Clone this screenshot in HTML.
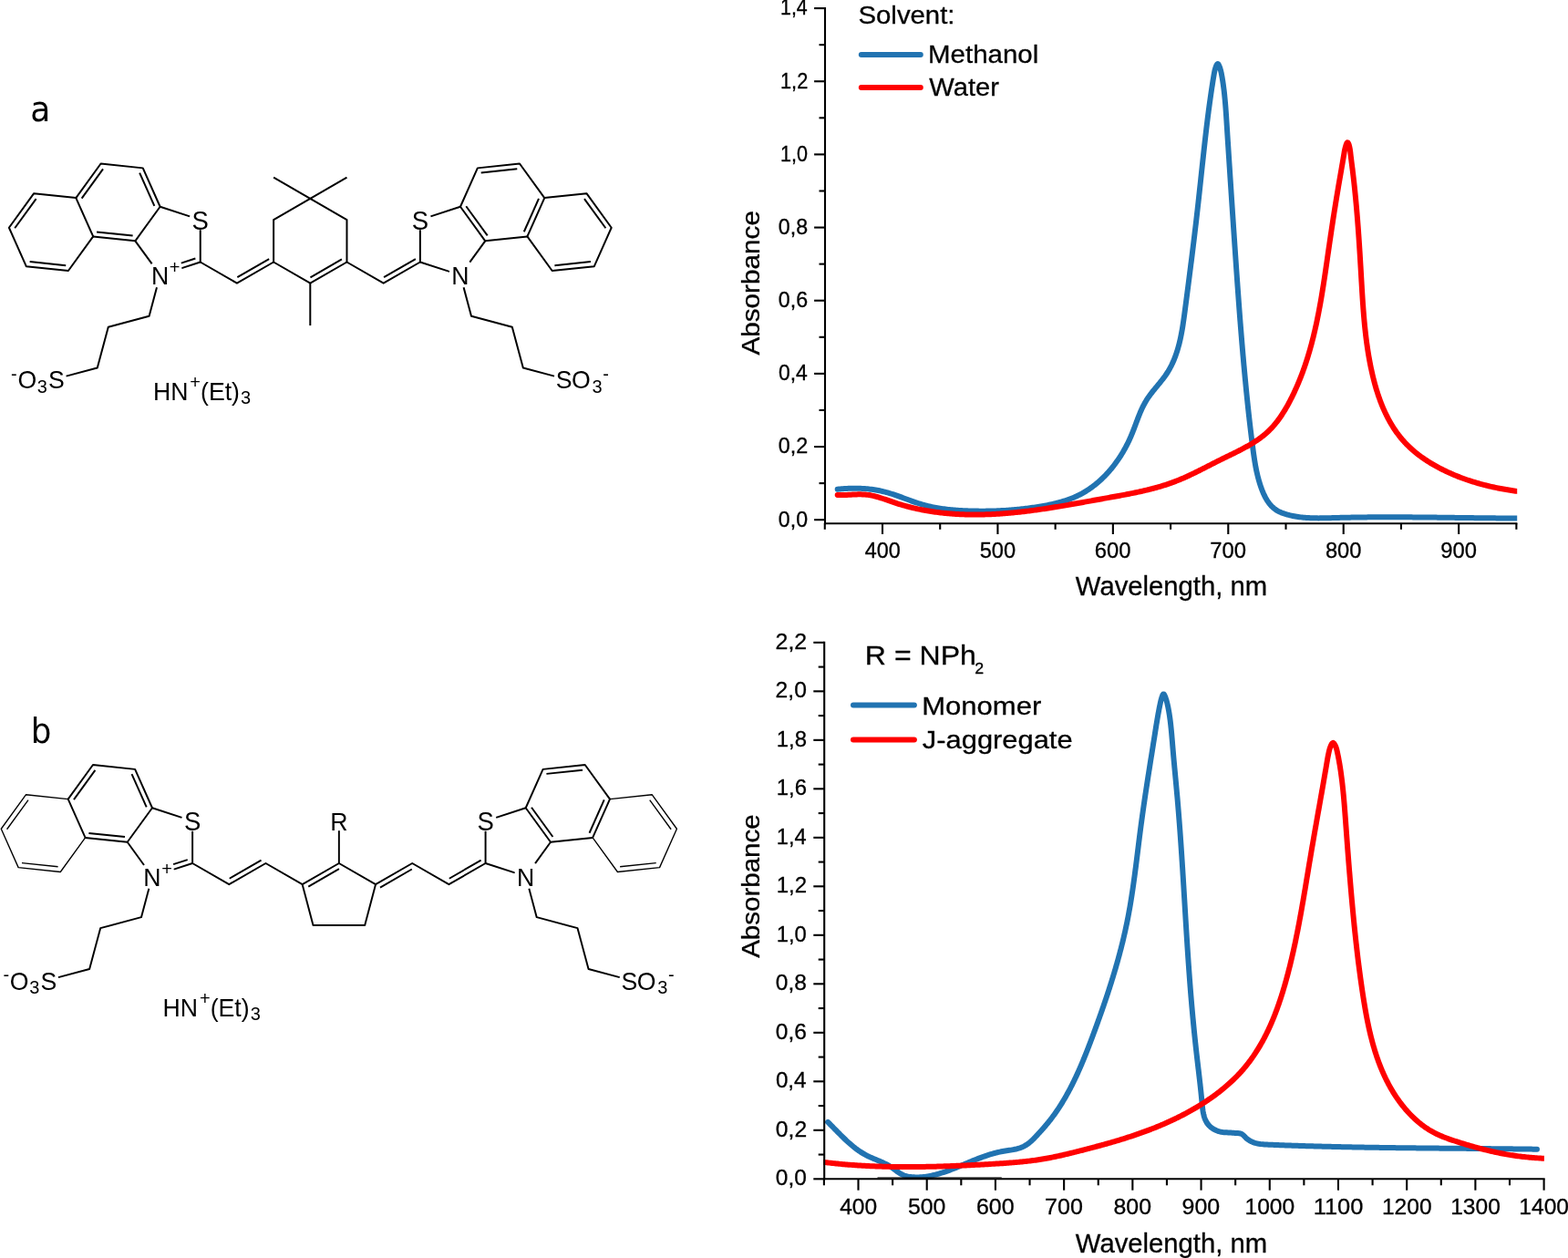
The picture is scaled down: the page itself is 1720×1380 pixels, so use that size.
<!DOCTYPE html>
<html><head><meta charset="utf-8"><title>Absorbance spectra</title>
<style>
html,body{margin:0;padding:0;background:#fff;}
body{width:1720px;height:1380px;overflow:hidden;}
svg{display:block;}
text{white-space:pre;}
</style></head><body>
<svg width="1720" height="1380" viewBox="0 0 1720 1380">
<rect width="1720" height="1380" fill="#fff"/>
<g id="struct-a">
<path d="M83.33 217.06 L37.18 212.21 L9.91 249.75 L28.78 292.14 L74.93 296.99 L102.2 259.45" fill="none" stroke="#000" stroke-width="2" stroke-linecap="round" stroke-linejoin="round"/>
<line x1="83.33" y1="217.06" x2="102.2" y2="259.45" stroke="#000" stroke-width="2" stroke-linecap="round"/>
<path d="M83.33 217.06 L110.6 179.52 L156.75 184.37 L175.62 226.76 L148.35 264.3 L102.2 259.45" fill="none" stroke="#000" stroke-width="2" stroke-linecap="butt" stroke-linejoin="round"/>
<line x1="175.62" y1="226.76" x2="208.15" y2="237.33" stroke="#000" stroke-width="2" stroke-linecap="butt"/>
<line x1="148.35" y1="264.3" x2="166.63" y2="289.46" stroke="#000" stroke-width="2" stroke-linecap="butt"/>
<path d="M172 315.36 L163.61 346.66 L118.79 358.67 L106.78 403.49 L72.59 412.65" fill="none" stroke="#000" stroke-width="2" stroke-linecap="butt" stroke-linejoin="round"/>
<line x1="200.16" y1="293.87" x2="219.75" y2="287.5" stroke="#000" stroke-width="2" stroke-linecap="round"/>
<line x1="198.77" y1="288.64" x2="214.37" y2="283.57" stroke="#000" stroke-width="2" stroke-linecap="butt"/>
<line x1="16.22" y1="250.25" x2="39.61" y2="218.06" stroke="#000" stroke-width="2" stroke-linecap="butt"/>
<line x1="72.21" y1="291.27" x2="32.63" y2="287.11" stroke="#000" stroke-width="2" stroke-linecap="butt"/>
<line x1="89.64" y1="217.57" x2="113.03" y2="185.37" stroke="#000" stroke-width="2" stroke-linecap="butt"/>
<line x1="153.16" y1="189.58" x2="169.34" y2="225.94" stroke="#000" stroke-width="2" stroke-linecap="butt"/>
<line x1="145.63" y1="258.58" x2="106.05" y2="254.42" stroke="#000" stroke-width="2" stroke-linecap="butt"/>
<text transform="translate(210.59,251.65) scale(1.0300,1.0875)" font-family='"Liberation Sans", sans-serif' font-size="26.67">S</text>
<text transform="translate(165.99,312.04) scale(1.0000,1.0407)" font-family='"Liberation Sans", sans-serif' font-size="26.67">N</text>
<path d="M597.27 217.06 L643.42 212.21 L670.69 249.75 L651.82 292.14 L605.67 296.99 L578.4 259.45" fill="none" stroke="#000" stroke-width="2" stroke-linecap="round" stroke-linejoin="round"/>
<line x1="597.27" y1="217.06" x2="578.4" y2="259.45" stroke="#000" stroke-width="2" stroke-linecap="round"/>
<path d="M597.27 217.06 L570 179.52 L523.85 184.37 L504.98 226.76 L532.25 264.3 L578.4 259.45" fill="none" stroke="#000" stroke-width="2" stroke-linecap="butt" stroke-linejoin="round"/>
<line x1="504.98" y1="226.76" x2="472.45" y2="237.33" stroke="#000" stroke-width="2" stroke-linecap="butt"/>
<line x1="532.25" y1="264.3" x2="515.32" y2="287.6" stroke="#000" stroke-width="2" stroke-linecap="butt"/>
<path d="M508.6 315.36 L516.99 346.66 L561.81 358.67 L573.82 403.49 L608.01 412.65" fill="none" stroke="#000" stroke-width="2" stroke-linecap="butt" stroke-linejoin="round"/>
<line x1="492.14" y1="297.67" x2="460.85" y2="287.5" stroke="#000" stroke-width="2" stroke-linecap="round"/>
<line x1="664.38" y1="250.25" x2="640.99" y2="218.06" stroke="#000" stroke-width="2" stroke-linecap="butt"/>
<line x1="608.39" y1="291.27" x2="647.97" y2="287.11" stroke="#000" stroke-width="2" stroke-linecap="butt"/>
<line x1="567.28" y1="185.24" x2="527.7" y2="189.4" stroke="#000" stroke-width="2" stroke-linecap="butt"/>
<line x1="511.29" y1="226.26" x2="534.68" y2="258.46" stroke="#000" stroke-width="2" stroke-linecap="butt"/>
<line x1="591" y1="217.88" x2="574.81" y2="254.24" stroke="#000" stroke-width="2" stroke-linecap="butt"/>
<text transform="translate(451.69,251.65) scale(1.0300,1.0875)" font-family='"Liberation Sans", sans-serif' font-size="26.67">S</text>
<text transform="translate(495.35,312.04) scale(1.0000,1.0407)" font-family='"Liberation Sans", sans-serif' font-size="26.67">N</text>
<path d="M219.75 252.3 L219.75 287.5 L259.93 310.7 L300.12 287.5 L340.3 310.7 L380.48 287.5 L420.67 310.7 L460.85 287.5 L460.85 252.3" fill="none" stroke="#000" stroke-width="2" stroke-linecap="butt" stroke-linejoin="round"/>
<path d="M300.12 287.5 L300.12 241.1 L340.3 217.9 L380.48 241.1 L380.48 287.5" fill="none" stroke="#000" stroke-width="2" stroke-linecap="butt" stroke-linejoin="round"/>
<line x1="340.3" y1="217.9" x2="300.12" y2="194.7" stroke="#000" stroke-width="2" stroke-linecap="butt"/>
<line x1="340.3" y1="217.9" x2="380.48" y2="194.7" stroke="#000" stroke-width="2" stroke-linecap="butt"/>
<line x1="340.3" y1="310.7" x2="340.3" y2="357.1" stroke="#000" stroke-width="2" stroke-linecap="butt"/>
<line x1="260.35" y1="304.22" x2="295.16" y2="284.12" stroke="#000" stroke-width="2" stroke-linecap="butt"/>
<line x1="340.46" y1="304.37" x2="374.93" y2="284.47" stroke="#000" stroke-width="2" stroke-linecap="butt"/>
<line x1="421.08" y1="304.22" x2="455.9" y2="284.12" stroke="#000" stroke-width="2" stroke-linecap="butt"/>
<text transform="translate(185.8,300.2) scale(1.0000,1.0407)" font-family='"Liberation Sans", sans-serif' font-size="20">+</text>
<text transform="translate(53.07,426.29) scale(1.0000,1.0407)" font-family='"Liberation Sans", sans-serif' font-size="26.67">S</text>
<text transform="translate(40.82,430.89) scale(1.0000,1.0407)" font-family='"Liberation Sans", sans-serif' font-size="20">3</text>
<text transform="translate(19.5,426.29) scale(1.0000,1.0407)" font-family='"Liberation Sans", sans-serif' font-size="26.67">O</text>
<text transform="translate(12.07,416.79) scale(1.0000,1.0407)" font-family='"Liberation Sans", sans-serif' font-size="20">-</text>
<text transform="translate(609.74,426.29) scale(1.0000,1.0407)" font-family='"Liberation Sans", sans-serif' font-size="26.67">S</text>
<text transform="translate(626.98,426.29) scale(1.0000,1.0407)" font-family='"Liberation Sans", sans-serif' font-size="26.67">O</text>
<text transform="translate(649.49,430.89) scale(1.0000,1.0407)" font-family='"Liberation Sans", sans-serif' font-size="20">3</text>
<text transform="translate(661.24,416.79) scale(1.0000,1.0407)" font-family='"Liberation Sans", sans-serif' font-size="20">-</text>
<text transform="translate(167.9,438.7) scale(1.0000,1.0407)" font-family='"Liberation Sans", sans-serif' font-size="26.67">HN</text>
<text transform="translate(208.3,426.1) scale(1.0000,1.0407)" font-family='"Liberation Sans", sans-serif' font-size="20">+</text>
<text transform="translate(220.03,438.7) scale(1.0000,1.0407)" font-family='"Liberation Sans", sans-serif' font-size="26.67">(Et)</text>
<text transform="translate(264.05,443.3) scale(1.0000,1.0407)" font-family='"Liberation Sans", sans-serif' font-size="20">3</text>
</g>
<g id="struct-b">
<path d="M74.7 876.56 L28.55 871.71 L1.28 909.25 L20.15 951.64 L66.29 956.49 L93.57 918.95" fill="none" stroke="#000" stroke-width="1.35" stroke-linecap="round" stroke-linejoin="round"/>
<line x1="74.7" y1="876.56" x2="93.57" y2="918.95" stroke="#000" stroke-width="1.95" stroke-linecap="round"/>
<path d="M74.7 876.56 L101.97 839.02 L148.11 843.87 L166.99 886.26 L139.71 923.8 L93.57 918.95" fill="none" stroke="#000" stroke-width="1.95" stroke-linecap="butt" stroke-linejoin="round"/>
<line x1="166.99" y1="886.26" x2="199.51" y2="896.83" stroke="#000" stroke-width="1.95" stroke-linecap="butt"/>
<line x1="139.71" y1="923.8" x2="157.99" y2="948.96" stroke="#000" stroke-width="1.95" stroke-linecap="butt"/>
<path d="M163.36 974.86 L154.98 1006.16 L110.16 1018.17 L98.15 1062.99 L63.96 1072.15" fill="none" stroke="#000" stroke-width="1.95" stroke-linecap="butt" stroke-linejoin="round"/>
<line x1="191.52" y1="953.37" x2="211.12" y2="947" stroke="#000" stroke-width="1.95" stroke-linecap="round"/>
<line x1="190.14" y1="948.14" x2="205.74" y2="943.07" stroke="#000" stroke-width="1.95" stroke-linecap="butt"/>
<line x1="7.58" y1="909.75" x2="30.98" y2="877.56" stroke="#000" stroke-width="1.35" stroke-linecap="butt"/>
<line x1="63.58" y1="950.77" x2="23.99" y2="946.61" stroke="#000" stroke-width="1.35" stroke-linecap="butt"/>
<line x1="81" y1="877.07" x2="104.4" y2="844.87" stroke="#000" stroke-width="1.95" stroke-linecap="butt"/>
<line x1="144.52" y1="849.08" x2="160.71" y2="885.44" stroke="#000" stroke-width="1.95" stroke-linecap="butt"/>
<line x1="137" y1="918.08" x2="97.41" y2="913.92" stroke="#000" stroke-width="1.95" stroke-linecap="butt"/>
<text transform="translate(201.95,911.15) scale(1.0300,1.0875)" font-family='"Liberation Sans", sans-serif' font-size="26.67">S</text>
<text transform="translate(157.36,971.54) scale(1.0000,1.0407)" font-family='"Liberation Sans", sans-serif' font-size="26.67">N</text>
<path d="M669 876.56 L715.15 871.71 L742.42 909.25 L723.55 951.64 L677.41 956.49 L650.13 918.95" fill="none" stroke="#000" stroke-width="1.35" stroke-linecap="round" stroke-linejoin="round"/>
<line x1="669" y1="876.56" x2="650.13" y2="918.95" stroke="#000" stroke-width="1.95" stroke-linecap="round"/>
<path d="M669 876.56 L641.73 839.02 L595.59 843.87 L576.71 886.26 L603.99 923.8 L650.13 918.95" fill="none" stroke="#000" stroke-width="1.95" stroke-linecap="butt" stroke-linejoin="round"/>
<line x1="576.71" y1="886.26" x2="544.19" y2="896.83" stroke="#000" stroke-width="1.95" stroke-linecap="butt"/>
<line x1="603.99" y1="923.8" x2="587.06" y2="947.1" stroke="#000" stroke-width="1.95" stroke-linecap="butt"/>
<path d="M580.34 974.86 L588.72 1006.16 L633.54 1018.17 L645.55 1062.99 L679.74 1072.15" fill="none" stroke="#000" stroke-width="1.95" stroke-linecap="butt" stroke-linejoin="round"/>
<line x1="563.87" y1="957.17" x2="532.58" y2="947" stroke="#000" stroke-width="1.95" stroke-linecap="round"/>
<line x1="736.12" y1="909.75" x2="712.72" y2="877.56" stroke="#000" stroke-width="1.35" stroke-linecap="butt"/>
<line x1="680.12" y1="950.77" x2="719.71" y2="946.61" stroke="#000" stroke-width="1.35" stroke-linecap="butt"/>
<line x1="639.01" y1="844.74" x2="599.43" y2="848.9" stroke="#000" stroke-width="1.95" stroke-linecap="butt"/>
<line x1="583.02" y1="885.76" x2="606.42" y2="917.96" stroke="#000" stroke-width="1.95" stroke-linecap="butt"/>
<line x1="662.73" y1="877.38" x2="646.54" y2="913.74" stroke="#000" stroke-width="1.95" stroke-linecap="butt"/>
<text transform="translate(523.42,911.15) scale(1.0300,1.0875)" font-family='"Liberation Sans", sans-serif' font-size="26.67">S</text>
<text transform="translate(567.08,971.54) scale(1.0000,1.0407)" font-family='"Liberation Sans", sans-serif' font-size="26.67">N</text>
<path d="M211.12 911.8 L211.12 947 L251.3 970.2 L291.48 947 L331.67 970.2 L371.85 947 L412.03 970.2 L452.22 947 L492.4 970.2 L532.58 947 L532.58 911.8" fill="none" stroke="#000" stroke-width="1.95" stroke-linecap="butt" stroke-linejoin="round"/>
<path d="M331.67 970.2 L343.5 1015 L400.2 1015 L412.03 970.2" fill="none" stroke="#000" stroke-width="1.95" stroke-linecap="butt" stroke-linejoin="round"/>
<line x1="371.85" y1="947" x2="371.85" y2="911.2" stroke="#000" stroke-width="1.95" stroke-linecap="butt"/>
<line x1="251.72" y1="963.72" x2="286.53" y2="943.62" stroke="#000" stroke-width="1.95" stroke-linecap="butt"/>
<line x1="338.26" y1="972.63" x2="371.95" y2="953.18" stroke="#000" stroke-width="1.95" stroke-linecap="butt"/>
<line x1="416.99" y1="973.58" x2="451.8" y2="953.48" stroke="#000" stroke-width="1.95" stroke-linecap="butt"/>
<line x1="492.82" y1="963.72" x2="527.63" y2="943.62" stroke="#000" stroke-width="1.95" stroke-linecap="butt"/>
<text transform="translate(362.22,910.8) scale(1.0000,1.0407)" font-family='"Liberation Sans", sans-serif' font-size="26.67">R</text>
<text transform="translate(177.27,959.5) scale(1.0000,1.0407)" font-family='"Liberation Sans", sans-serif' font-size="20">+</text>
<text transform="translate(44.44,1085.79) scale(1.0000,1.0407)" font-family='"Liberation Sans", sans-serif' font-size="26.67">S</text>
<text transform="translate(32.19,1090.39) scale(1.0000,1.0407)" font-family='"Liberation Sans", sans-serif' font-size="20">3</text>
<text transform="translate(10.87,1085.79) scale(1.0000,1.0407)" font-family='"Liberation Sans", sans-serif' font-size="26.67">O</text>
<text transform="translate(3.44,1076.29) scale(1.0000,1.0407)" font-family='"Liberation Sans", sans-serif' font-size="20">-</text>
<text transform="translate(681.48,1085.79) scale(1.0000,1.0407)" font-family='"Liberation Sans", sans-serif' font-size="26.67">S</text>
<text transform="translate(698.71,1085.79) scale(1.0000,1.0407)" font-family='"Liberation Sans", sans-serif' font-size="26.67">O</text>
<text transform="translate(721.23,1090.39) scale(1.0000,1.0407)" font-family='"Liberation Sans", sans-serif' font-size="20">3</text>
<text transform="translate(732.98,1076.29) scale(1.0000,1.0407)" font-family='"Liberation Sans", sans-serif' font-size="20">-</text>
<text transform="translate(178.5,1114.7) scale(1.0000,1.0407)" font-family='"Liberation Sans", sans-serif' font-size="26.67">HN</text>
<text transform="translate(218.9,1102.1) scale(1.0000,1.0407)" font-family='"Liberation Sans", sans-serif' font-size="20">+</text>
<text transform="translate(230.63,1114.7) scale(1.0000,1.0407)" font-family='"Liberation Sans", sans-serif' font-size="26.67">(Et)</text>
<text transform="translate(274.65,1119.3) scale(1.0000,1.0407)" font-family='"Liberation Sans", sans-serif' font-size="20">3</text>
</g>
<text transform="translate(33.33,132.63) scale(0.9437,1)" font-family='"DejaVu Sans", sans-serif' font-size="38.26" fill="#000">a</text>
<text transform="translate(33.79,814.64) scale(0.9611,1)" font-family='"DejaVu Sans", sans-serif' font-size="37.16" fill="#000">b</text>
<g id="chart-a">
<clipPath id="ca"><rect x="900" y="0" width="764.2" height="600"/></clipPath>
<path d="M918.7 536.71 L920.19 536.55 L921.69 536.41 L923.18 536.28 L924.68 536.16 L926.18 536.06 L927.67 535.96 L929.17 535.88 L930.68 535.81 L932.18 535.75 L933.68 535.71 L935.18 535.68 L936.68 535.67 L938.18 535.67 L939.69 535.68 L941.19 535.71 L942.69 535.75 L944.19 535.81 L945.68 535.88 L947.18 535.97 L948.68 536.07 L950.17 536.19 L951.66 536.33 L953.15 536.48 L954.64 536.65 L956.12 536.83 L957.61 537.03 L959.09 537.25 L960.56 537.49 L962.04 537.75 L963.5 538.02 L964.97 538.31 L966.43 538.62 L967.89 538.95 L969.35 539.3 L970.8 539.66 L972.24 540.05 L973.68 540.45 L975.12 540.87 L976.55 541.3 L977.98 541.75 L979.41 542.21 L980.84 542.68 L982.26 543.16 L983.68 543.65 L985.1 544.15 L986.52 544.66 L987.94 545.17 L989.35 545.68 L990.77 546.2 L992.18 546.72 L993.59 547.24 L995.01 547.76 L996.42 548.28 L997.84 548.8 L999.26 549.31 L1000.67 549.82 L1002.09 550.32 L1003.52 550.81 L1004.94 551.3 L1006.37 551.77 L1007.79 552.24 L1009.23 552.69 L1010.66 553.12 L1012.1 553.55 L1013.54 553.95 L1014.99 554.34 L1016.44 554.72 L1017.89 555.08 L1019.35 555.42 L1020.81 555.75 L1022.27 556.07 L1023.74 556.37 L1025.21 556.66 L1026.68 556.93 L1028.16 557.2 L1029.63 557.44 L1031.11 557.68 L1032.6 557.9 L1034.08 558.12 L1035.57 558.32 L1037.05 558.51 L1038.54 558.69 L1040.04 558.86 L1041.53 559.02 L1043.02 559.17 L1044.52 559.31 L1046.01 559.44 L1047.51 559.56 L1049.01 559.67 L1050.51 559.78 L1052.01 559.88 L1053.51 559.97 L1055.01 560.05 L1056.51 560.13 L1058.01 560.2 L1059.51 560.27 L1061.01 560.33 L1062.51 560.38 L1064.01 560.43 L1065.51 560.47 L1067 560.51 L1068.5 560.54 L1070 560.57 L1071.5 560.6 L1072.99 560.62 L1074.49 560.63 L1075.98 560.64 L1077.48 560.64 L1078.97 560.64 L1080.47 560.63 L1081.96 560.62 L1083.46 560.6 L1084.95 560.58 L1086.44 560.55 L1087.94 560.51 L1089.43 560.47 L1090.92 560.43 L1092.42 560.38 L1093.91 560.32 L1095.4 560.26 L1096.9 560.19 L1098.39 560.12 L1099.88 560.04 L1101.37 559.96 L1102.86 559.87 L1104.36 559.77 L1105.85 559.67 L1107.34 559.56 L1108.83 559.45 L1110.33 559.33 L1111.82 559.21 L1113.31 559.08 L1114.8 558.94 L1116.3 558.8 L1117.79 558.65 L1119.28 558.5 L1120.78 558.34 L1122.27 558.17 L1123.77 558 L1125.26 557.82 L1126.75 557.64 L1128.25 557.45 L1129.74 557.25 L1131.24 557.05 L1132.74 556.84 L1134.23 556.63 L1135.73 556.41 L1137.23 556.18 L1138.72 555.95 L1140.22 555.71 L1141.72 555.46 L1143.21 555.21 L1144.71 554.94 L1146.21 554.67 L1147.7 554.39 L1149.19 554.1 L1150.68 553.8 L1152.16 553.49 L1153.64 553.17 L1155.12 552.84 L1156.6 552.5 L1158.07 552.14 L1159.53 551.78 L1161 551.39 L1162.45 551 L1163.9 550.59 L1165.34 550.17 L1166.78 549.73 L1168.21 549.28 L1169.64 548.81 L1171.05 548.33 L1172.46 547.82 L1173.86 547.31 L1175.25 546.77 L1176.63 546.22 L1178 545.64 L1179.37 545.05 L1180.72 544.44 L1182.06 543.81 L1183.39 543.16 L1184.71 542.49 L1186.02 541.8 L1187.32 541.09 L1188.61 540.36 L1189.88 539.61 L1191.15 538.84 L1192.4 538.06 L1193.64 537.25 L1194.87 536.43 L1196.09 535.59 L1197.3 534.73 L1198.49 533.85 L1199.68 532.96 L1200.85 532.05 L1202.01 531.12 L1203.16 530.18 L1204.3 529.22 L1205.42 528.25 L1206.54 527.26 L1207.64 526.25 L1208.73 525.23 L1209.81 524.2 L1210.87 523.15 L1211.93 522.08 L1212.97 521.01 L1214 519.92 L1215.02 518.81 L1216.02 517.7 L1217.01 516.57 L1217.99 515.42 L1218.96 514.27 L1219.92 513.1 L1220.86 511.93 L1221.79 510.74 L1222.71 509.54 L1223.61 508.32 L1224.5 507.1 L1225.38 505.87 L1226.25 504.63 L1227.1 503.37 L1227.94 502.11 L1228.77 500.84 L1229.58 499.56 L1230.38 498.27 L1231.17 496.97 L1231.95 495.67 L1232.71 494.35 L1233.46 493.03 L1234.19 491.7 L1234.92 490.37 L1235.63 489.02 L1236.32 487.67 L1237 486.32 L1237.67 484.95 L1238.33 483.59 L1238.97 482.21 L1239.59 480.83 L1240.21 479.45 L1240.81 478.06 L1241.39 476.67 L1241.97 475.27 L1242.53 473.87 L1243.08 472.47 L1243.62 471.06 L1244.16 469.65 L1244.69 468.25 L1245.22 466.84 L1245.74 465.43 L1246.27 464.03 L1246.79 462.62 L1247.32 461.22 L1247.85 459.82 L1248.38 458.43 L1248.92 457.04 L1249.47 455.65 L1250.03 454.27 L1250.59 452.9 L1251.17 451.54 L1251.77 450.18 L1252.38 448.83 L1253.01 447.49 L1253.65 446.16 L1254.31 444.84 L1255 443.53 L1255.71 442.23 L1256.44 440.94 L1257.2 439.67 L1257.98 438.41 L1258.79 437.17 L1259.63 435.93 L1260.49 434.71 L1261.37 433.5 L1262.27 432.3 L1263.18 431.1 L1264.11 429.91 L1265.04 428.73 L1265.99 427.56 L1266.95 426.38 L1267.91 425.21 L1268.87 424.04 L1269.84 422.87 L1270.8 421.71 L1271.76 420.54 L1272.71 419.36 L1273.66 418.18 L1274.59 417 L1275.51 415.82 L1276.42 414.62 L1277.31 413.42 L1278.19 412.21 L1279.04 410.98 L1279.86 409.75 L1280.67 408.5 L1281.45 407.25 L1282.2 405.98 L1282.93 404.7 L1283.64 403.41 L1284.33 402.11 L1285 400.8 L1285.64 399.47 L1286.27 398.14 L1286.87 396.8 L1287.46 395.45 L1288.02 394.09 L1288.57 392.72 L1289.09 391.35 L1289.6 389.96 L1290.1 388.57 L1290.57 387.17 L1291.03 385.76 L1291.48 384.35 L1291.91 382.92 L1292.32 381.49 L1292.72 380.06 L1293.11 378.62 L1293.48 377.17 L1293.84 375.72 L1294.19 374.26 L1294.52 372.79 L1294.85 371.32 L1295.16 369.85 L1295.46 368.37 L1295.76 366.89 L1296.04 365.41 L1296.32 363.92 L1296.58 362.43 L1296.84 360.93 L1297.09 359.43 L1297.34 357.93 L1297.57 356.43 L1297.8 354.92 L1298.03 353.42 L1298.25 351.91 L1298.47 350.4 L1298.68 348.89 L1298.89 347.38 L1299.1 345.87 L1299.3 344.36 L1299.5 342.85 L1299.7 341.34 L1299.9 339.83 L1300.1 338.32 L1300.29 336.81 L1300.49 335.3 L1300.69 333.79 L1300.89 332.29 L1301.08 330.79 L1301.28 329.28 L1301.48 327.78 L1301.67 326.28 L1301.87 324.78 L1302.06 323.28 L1302.26 321.78 L1302.45 320.28 L1302.65 318.79 L1302.84 317.29 L1303.04 315.79 L1303.23 314.3 L1303.42 312.81 L1303.62 311.31 L1303.81 309.82 L1304 308.33 L1304.19 306.84 L1304.39 305.35 L1304.58 303.86 L1304.77 302.37 L1304.96 300.88 L1305.15 299.39 L1305.34 297.91 L1305.53 296.42 L1305.72 294.93 L1305.91 293.45 L1306.09 291.96 L1306.28 290.48 L1306.47 288.99 L1306.66 287.51 L1306.84 286.02 L1307.03 284.54 L1307.22 283.06 L1307.4 281.58 L1307.59 280.09 L1307.77 278.61 L1307.96 277.13 L1308.14 275.65 L1308.32 274.17 L1308.51 272.69 L1308.69 271.2 L1308.87 269.72 L1309.05 268.24 L1309.23 266.76 L1309.41 265.28 L1309.59 263.8 L1309.77 262.32 L1309.95 260.84 L1310.13 259.36 L1310.31 257.88 L1310.49 256.4 L1310.66 254.92 L1310.84 253.44 L1311.02 251.96 L1311.19 250.48 L1311.37 249 L1311.54 247.52 L1311.72 246.04 L1311.89 244.56 L1312.06 243.08 L1312.24 241.6 L1312.41 240.11 L1312.58 238.63 L1312.75 237.15 L1312.92 235.67 L1313.09 234.19 L1313.26 232.7 L1313.43 231.22 L1313.6 229.74 L1313.76 228.25 L1313.93 226.77 L1314.1 225.28 L1314.26 223.8 L1314.43 222.31 L1314.59 220.82 L1314.75 219.34 L1314.92 217.85 L1315.08 216.36 L1315.24 214.87 L1315.4 213.38 L1315.57 211.9 L1315.73 210.41 L1315.89 208.92 L1316.05 207.43 L1316.21 205.94 L1316.37 204.44 L1316.53 202.95 L1316.69 201.46 L1316.85 199.97 L1317.01 198.48 L1317.17 196.99 L1317.32 195.49 L1317.48 194 L1317.64 192.51 L1317.8 191.01 L1317.96 189.52 L1318.12 188.02 L1318.28 186.53 L1318.44 185.04 L1318.6 183.54 L1318.76 182.05 L1318.92 180.55 L1319.08 179.06 L1319.24 177.56 L1319.4 176.07 L1319.56 174.57 L1319.73 173.07 L1319.89 171.58 L1320.05 170.08 L1320.21 168.59 L1320.38 167.09 L1320.54 165.59 L1320.71 164.1 L1320.87 162.6 L1321.04 161.11 L1321.21 159.61 L1321.37 158.11 L1321.54 156.62 L1321.71 155.12 L1321.88 153.63 L1322.05 152.13 L1322.22 150.63 L1322.4 149.14 L1322.57 147.64 L1322.74 146.15 L1322.92 144.65 L1323.1 143.15 L1323.27 141.66 L1323.45 140.16 L1323.63 138.67 L1323.81 137.17 L1323.99 135.68 L1324.18 134.18 L1324.36 132.69 L1324.55 131.19 L1324.73 129.7 L1324.92 128.21 L1325.11 126.71 L1325.3 125.22 L1325.5 123.73 L1325.69 122.23 L1325.88 120.74 L1326.08 119.25 L1326.28 117.76 L1326.48 116.26 L1326.68 114.77 L1326.88 113.28 L1327.09 111.79 L1327.3 110.3 L1327.5 108.81 L1327.71 107.32 L1327.93 105.83 L1328.14 104.34 L1328.36 102.86 L1328.57 101.37 L1328.79 99.88 L1329.01 98.39 L1329.24 96.91 L1329.46 95.42 L1329.69 93.94 L1329.92 92.46 L1330.15 90.99 L1330.38 89.53 L1330.61 88.07 L1330.85 86.62 L1331.08 85.18 L1331.32 83.75 L1331.56 82.33 L1331.8 80.92 L1332.06 79.51 L1332.36 78.07 L1332.72 76.57 L1333.16 75.01 L1333.71 73.34 L1334.37 71.65 L1335.1 70.35 L1335.88 69.96 L1336.65 70.7 L1337.37 72.19 L1338.01 73.91 L1338.54 75.54 L1338.98 77.08 L1339.35 78.54 L1339.67 79.95 L1339.94 81.33 L1340.2 82.71 L1340.45 84.1 L1340.7 85.5 L1340.93 86.91 L1341.16 88.33 L1341.38 89.76 L1341.59 91.19 L1341.8 92.64 L1342 94.09 L1342.19 95.54 L1342.37 97.01 L1342.55 98.48 L1342.73 99.96 L1342.9 101.45 L1343.06 102.94 L1343.22 104.43 L1343.37 105.93 L1343.52 107.44 L1343.66 108.95 L1343.8 110.46 L1343.93 111.98 L1344.07 113.5 L1344.19 115.02 L1344.32 116.54 L1344.44 118.07 L1344.55 119.6 L1344.67 121.13 L1344.78 122.67 L1344.89 124.2 L1344.99 125.73 L1345.1 127.27 L1345.2 128.8 L1345.3 130.33 L1345.4 131.87 L1345.5 133.4 L1345.6 134.93 L1345.69 136.46 L1345.79 137.98 L1345.89 139.5 L1345.98 141.02 L1346.08 142.54 L1346.17 144.06 L1346.27 145.57 L1346.36 147.07 L1346.46 148.58 L1346.56 150.08 L1346.65 151.59 L1346.75 153.08 L1346.84 154.58 L1346.94 156.08 L1347.04 157.57 L1347.13 159.06 L1347.23 160.55 L1347.33 162.04 L1347.42 163.53 L1347.52 165.02 L1347.62 166.5 L1347.71 167.99 L1347.81 169.47 L1347.91 170.95 L1348 172.44 L1348.1 173.92 L1348.2 175.4 L1348.29 176.89 L1348.39 178.37 L1348.49 179.85 L1348.58 181.34 L1348.68 182.82 L1348.78 184.31 L1348.88 185.8 L1348.97 187.28 L1349.07 188.77 L1349.17 190.26 L1349.27 191.75 L1349.36 193.24 L1349.46 194.72 L1349.56 196.22 L1349.66 197.71 L1349.76 199.2 L1349.85 200.69 L1349.95 202.18 L1350.05 203.67 L1350.15 205.17 L1350.25 206.66 L1350.35 208.15 L1350.45 209.65 L1350.54 211.14 L1350.64 212.64 L1350.74 214.14 L1350.84 215.63 L1350.94 217.13 L1351.04 218.62 L1351.14 220.12 L1351.24 221.62 L1351.34 223.12 L1351.44 224.62 L1351.54 226.11 L1351.64 227.61 L1351.74 229.11 L1351.83 230.61 L1351.93 232.11 L1352.03 233.61 L1352.13 235.11 L1352.24 236.61 L1352.34 238.11 L1352.44 239.61 L1352.54 241.11 L1352.64 242.61 L1352.74 244.11 L1352.84 245.61 L1352.94 247.11 L1353.04 248.61 L1353.14 250.11 L1353.24 251.62 L1353.34 253.12 L1353.45 254.62 L1353.55 256.12 L1353.65 257.62 L1353.75 259.12 L1353.85 260.62 L1353.95 262.12 L1354.06 263.62 L1354.16 265.13 L1354.26 266.63 L1354.36 268.13 L1354.46 269.63 L1354.57 271.13 L1354.67 272.63 L1354.77 274.13 L1354.88 275.63 L1354.98 277.13 L1355.08 278.63 L1355.18 280.13 L1355.29 281.63 L1355.39 283.13 L1355.5 284.63 L1355.6 286.12 L1355.7 287.62 L1355.81 289.12 L1355.91 290.62 L1356.01 292.12 L1356.12 293.61 L1356.22 295.11 L1356.33 296.61 L1356.43 298.11 L1356.54 299.6 L1356.64 301.1 L1356.75 302.59 L1356.85 304.09 L1356.96 305.59 L1357.07 307.08 L1357.17 308.58 L1357.28 310.07 L1357.39 311.57 L1357.49 313.06 L1357.6 314.56 L1357.71 316.05 L1357.82 317.55 L1357.92 319.04 L1358.03 320.53 L1358.14 322.03 L1358.25 323.52 L1358.36 325.01 L1358.47 326.51 L1358.58 328 L1358.69 329.49 L1358.8 330.99 L1358.91 332.48 L1359.02 333.97 L1359.13 335.47 L1359.24 336.96 L1359.36 338.45 L1359.47 339.95 L1359.58 341.44 L1359.7 342.93 L1359.81 344.42 L1359.92 345.92 L1360.04 347.41 L1360.15 348.9 L1360.27 350.39 L1360.39 351.89 L1360.5 353.38 L1360.62 354.87 L1360.74 356.36 L1360.85 357.85 L1360.97 359.35 L1361.09 360.84 L1361.21 362.33 L1361.33 363.82 L1361.45 365.32 L1361.57 366.81 L1361.69 368.3 L1361.82 369.79 L1361.94 371.28 L1362.06 372.78 L1362.19 374.27 L1362.31 375.76 L1362.43 377.26 L1362.56 378.75 L1362.69 380.24 L1362.81 381.73 L1362.94 383.23 L1363.07 384.72 L1363.2 386.21 L1363.32 387.71 L1363.45 389.2 L1363.58 390.69 L1363.72 392.19 L1363.85 393.68 L1363.98 395.17 L1364.11 396.67 L1364.25 398.16 L1364.38 399.66 L1364.51 401.15 L1364.65 402.64 L1364.79 404.14 L1364.92 405.63 L1365.06 407.13 L1365.2 408.62 L1365.34 410.12 L1365.48 411.61 L1365.62 413.11 L1365.76 414.61 L1365.9 416.1 L1366.05 417.6 L1366.19 419.09 L1366.34 420.59 L1366.48 422.09 L1366.63 423.59 L1366.77 425.08 L1366.92 426.58 L1367.07 428.08 L1367.22 429.58 L1367.37 431.07 L1367.52 432.57 L1367.67 434.07 L1367.83 435.57 L1367.98 437.07 L1368.14 438.57 L1368.29 440.07 L1368.45 441.57 L1368.61 443.07 L1368.76 444.57 L1368.92 446.07 L1369.08 447.57 L1369.25 449.06 L1369.41 450.56 L1369.57 452.06 L1369.73 453.56 L1369.9 455.06 L1370.07 456.55 L1370.23 458.05 L1370.4 459.54 L1370.57 461.04 L1370.74 462.53 L1370.91 464.03 L1371.08 465.52 L1371.26 467.01 L1371.43 468.5 L1371.61 469.99 L1371.78 471.48 L1371.96 472.97 L1372.14 474.46 L1372.32 475.94 L1372.5 477.43 L1372.68 478.91 L1372.87 480.39 L1373.05 481.87 L1373.24 483.35 L1373.43 484.83 L1373.61 486.31 L1373.8 487.78 L1373.99 489.25 L1374.18 490.73 L1374.38 492.2 L1374.57 493.66 L1374.77 495.13 L1374.97 496.6 L1375.17 498.06 L1375.38 499.52 L1375.59 500.98 L1375.8 502.44 L1376.03 503.9 L1376.25 505.36 L1376.49 506.82 L1376.74 508.28 L1376.99 509.74 L1377.25 511.19 L1377.52 512.65 L1377.81 514.11 L1378.1 515.56 L1378.41 517.02 L1378.73 518.48 L1379.06 519.94 L1379.41 521.39 L1379.77 522.85 L1380.15 524.31 L1380.54 525.78 L1380.95 527.24 L1381.38 528.7 L1381.82 530.17 L1382.29 531.63 L1382.77 533.1 L1383.28 534.57 L1383.8 536.03 L1384.35 537.49 L1384.93 538.94 L1385.53 540.38 L1386.15 541.8 L1386.81 543.21 L1387.5 544.59 L1388.21 545.95 L1388.96 547.29 L1389.75 548.59 L1390.57 549.86 L1391.42 551.1 L1392.32 552.29 L1393.25 553.45 L1394.23 554.56 L1395.24 555.62 L1396.31 556.63 L1397.41 557.59 L1398.56 558.49 L1399.76 559.33 L1401.01 560.11 L1402.3 560.83 L1403.64 561.5 L1405 562.11 L1406.4 562.67 L1407.82 563.2 L1409.26 563.68 L1410.72 564.12 L1412.18 564.54 L1413.65 564.93 L1415.12 565.29 L1416.59 565.63 L1418.06 565.94 L1419.54 566.23 L1421.02 566.5 L1422.5 566.75 L1423.98 566.97 L1425.46 567.18 L1426.95 567.36 L1428.43 567.53 L1429.92 567.68 L1431.41 567.81 L1432.9 567.93 L1434.39 568.03 L1435.89 568.11 L1437.38 568.19 L1438.88 568.25 L1440.38 568.29 L1441.88 568.33 L1443.38 568.35 L1444.88 568.37 L1446.38 568.38 L1447.88 568.37 L1449.38 568.36 L1450.88 568.35 L1452.39 568.32 L1453.89 568.3 L1455.4 568.26 L1456.9 568.23 L1458.41 568.19 L1459.91 568.15 L1461.42 568.11 L1462.92 568.06 L1464.43 568.02 L1465.93 567.98 L1467.44 567.94 L1468.94 567.9 L1470.44 567.86 L1471.95 567.83 L1473.45 567.79 L1474.96 567.76 L1476.46 567.73 L1477.97 567.7 L1479.47 567.67 L1480.97 567.64 L1482.48 567.61 L1483.98 567.59 L1485.48 567.56 L1486.99 567.54 L1488.49 567.52 L1489.99 567.49 L1491.49 567.47 L1493 567.45 L1494.5 567.44 L1496 567.42 L1497.5 567.4 L1499.01 567.39 L1500.51 567.37 L1502.01 567.36 L1503.51 567.35 L1505.02 567.34 L1506.52 567.33 L1508.02 567.32 L1509.52 567.31 L1511.02 567.3 L1512.52 567.3 L1514.02 567.29 L1515.53 567.29 L1517.03 567.28 L1518.53 567.28 L1520.03 567.28 L1521.53 567.27 L1523.03 567.27 L1524.53 567.27 L1526.03 567.27 L1527.53 567.28 L1529.03 567.28 L1530.53 567.28 L1532.03 567.28 L1533.53 567.29 L1535.03 567.29 L1536.53 567.3 L1538.03 567.31 L1539.53 567.31 L1541.03 567.32 L1542.53 567.33 L1544.03 567.34 L1545.53 567.35 L1547.03 567.36 L1548.53 567.37 L1550.03 567.38 L1551.53 567.39 L1553.03 567.4 L1554.53 567.41 L1556.03 567.42 L1557.53 567.44 L1559.03 567.45 L1560.53 567.46 L1562.03 567.48 L1563.52 567.49 L1565.02 567.51 L1566.52 567.52 L1568.02 567.54 L1569.52 567.56 L1571.02 567.57 L1572.52 567.59 L1574.02 567.6 L1575.52 567.62 L1577.02 567.64 L1578.51 567.66 L1580.01 567.67 L1581.51 567.69 L1583.01 567.71 L1584.51 567.73 L1586.01 567.75 L1587.51 567.77 L1589.01 567.78 L1590.5 567.8 L1592 567.82 L1593.5 567.84 L1595 567.86 L1596.5 567.88 L1598 567.9 L1599.5 567.92 L1601 567.93 L1602.49 567.95 L1603.99 567.97 L1605.49 567.99 L1606.99 568.01 L1608.49 568.03 L1609.99 568.05 L1611.49 568.07 L1612.99 568.08 L1614.48 568.1 L1615.98 568.12 L1617.48 568.14 L1618.98 568.15 L1620.48 568.17 L1621.98 568.19 L1623.48 568.21 L1624.98 568.22 L1626.48 568.24 L1627.98 568.26 L1629.47 568.27 L1630.97 568.29 L1632.47 568.3 L1633.97 568.32 L1635.47 568.33 L1636.97 568.35 L1638.47 568.36 L1639.97 568.37 L1641.47 568.38 L1642.97 568.4 L1644.47 568.41 L1645.97 568.42 L1647.47 568.43 L1648.97 568.44 L1650.47 568.45 L1651.97 568.46 L1653.47 568.47 L1654.97 568.48 L1656.47 568.49 L1657.97 568.49 L1659.47 568.5 L1660.97 568.51 L1662.47 568.51 L1663.97 568.52 L1665.47 568.52 L1666.97 568.52 L1668.47 568.53 L1669.97 568.53 L1671.47 568.53 L1672.97 568.53 L1674.47 568.53 L1675.97 568.53 L1677.47 568.53 L1678.97 568.52 L1680.48 568.52 L1681.98 568.52 L1683.48 568.51 L1684.98 568.5 L1686.48 568.5 L1687.98 568.49 L1689.49 568.48 L1690.99 568.47 L1692.49 568.46 L1693.99 568.45 L1695.49 568.44 L1697 568.42 L1698.5 568.41 L1700 568.39" fill="none" stroke="#2173b1" stroke-width="6" stroke-linecap="round" stroke-linejoin="round" clip-path="url(#ca)"/>
<path d="M918.7 543 L920.16 543.06 L921.62 543.09 L923.1 543.09 L924.59 543.08 L926.08 543.04 L927.58 542.98 L929.09 542.92 L930.6 542.84 L932.12 542.76 L933.64 542.68 L935.16 542.6 L936.68 542.53 L938.21 542.46 L939.73 542.41 L941.25 542.37 L942.77 542.35 L944.29 542.36 L945.8 542.39 L947.31 542.45 L948.81 542.55 L950.3 542.68 L951.79 542.86 L953.27 543.07 L954.74 543.32 L956.21 543.6 L957.67 543.91 L959.12 544.25 L960.57 544.61 L962.02 545 L963.46 545.41 L964.9 545.84 L966.33 546.29 L967.76 546.75 L969.19 547.23 L970.62 547.71 L972.05 548.2 L973.47 548.7 L974.9 549.2 L976.33 549.7 L977.75 550.19 L979.18 550.69 L980.61 551.17 L982.04 551.65 L983.48 552.12 L984.91 552.58 L986.35 553.03 L987.79 553.47 L989.23 553.9 L990.68 554.32 L992.13 554.73 L993.57 555.13 L995.03 555.52 L996.48 555.9 L997.93 556.27 L999.39 556.64 L1000.85 556.99 L1002.31 557.34 L1003.77 557.67 L1005.23 558 L1006.7 558.32 L1008.17 558.63 L1009.63 558.93 L1011.1 559.22 L1012.58 559.51 L1014.05 559.78 L1015.52 560.05 L1017 560.31 L1018.48 560.56 L1019.96 560.8 L1021.44 561.03 L1022.92 561.26 L1024.4 561.47 L1025.88 561.68 L1027.37 561.88 L1028.85 562.08 L1030.34 562.26 L1031.83 562.44 L1033.32 562.61 L1034.81 562.77 L1036.3 562.93 L1037.79 563.07 L1039.28 563.21 L1040.77 563.35 L1042.27 563.47 L1043.76 563.59 L1045.26 563.7 L1046.75 563.8 L1048.25 563.9 L1049.74 563.99 L1051.24 564.07 L1052.74 564.15 L1054.24 564.21 L1055.73 564.28 L1057.23 564.33 L1058.73 564.38 L1060.23 564.42 L1061.73 564.46 L1063.23 564.49 L1064.73 564.51 L1066.23 564.53 L1067.73 564.54 L1069.23 564.54 L1070.73 564.54 L1072.23 564.53 L1073.73 564.52 L1075.23 564.5 L1076.73 564.47 L1078.23 564.44 L1079.73 564.41 L1081.23 564.36 L1082.73 564.32 L1084.22 564.26 L1085.72 564.2 L1087.22 564.14 L1088.72 564.07 L1090.21 563.99 L1091.71 563.91 L1093.2 563.83 L1094.7 563.74 L1096.19 563.64 L1097.69 563.54 L1099.18 563.44 L1100.67 563.33 L1102.17 563.21 L1103.66 563.09 L1105.15 562.97 L1106.64 562.84 L1108.13 562.71 L1109.62 562.57 L1111.11 562.43 L1112.6 562.29 L1114.09 562.14 L1115.58 561.98 L1117.07 561.82 L1118.56 561.66 L1120.05 561.5 L1121.54 561.33 L1123.02 561.16 L1124.51 560.98 L1126 560.8 L1127.49 560.62 L1128.97 560.43 L1130.46 560.24 L1131.94 560.05 L1133.43 559.85 L1134.92 559.65 L1136.4 559.45 L1137.89 559.24 L1139.37 559.03 L1140.86 558.82 L1142.34 558.6 L1143.83 558.39 L1145.31 558.17 L1146.79 557.94 L1148.28 557.72 L1149.76 557.49 L1151.25 557.26 L1152.73 557.03 L1154.21 556.79 L1155.7 556.56 L1157.18 556.32 L1158.66 556.08 L1160.15 555.84 L1161.63 555.59 L1163.11 555.34 L1164.6 555.1 L1166.08 554.85 L1167.56 554.59 L1169.05 554.34 L1170.53 554.09 L1172.01 553.83 L1173.49 553.57 L1174.98 553.31 L1176.46 553.05 L1177.94 552.79 L1179.43 552.53 L1180.91 552.27 L1182.39 552 L1183.88 551.74 L1185.36 551.47 L1186.84 551.21 L1188.33 550.94 L1189.81 550.67 L1191.29 550.41 L1192.78 550.14 L1194.26 549.87 L1195.74 549.6 L1197.23 549.33 L1198.71 549.06 L1200.2 548.79 L1201.68 548.52 L1203.17 548.25 L1204.65 547.98 L1206.14 547.71 L1207.62 547.45 L1209.11 547.18 L1210.59 546.91 L1212.08 546.64 L1213.57 546.37 L1215.05 546.11 L1216.54 545.84 L1218.03 545.57 L1219.51 545.31 L1221 545.04 L1222.48 544.77 L1223.97 544.5 L1225.46 544.23 L1226.94 543.96 L1228.43 543.69 L1229.91 543.42 L1231.39 543.14 L1232.88 542.86 L1234.36 542.58 L1235.84 542.3 L1237.32 542.01 L1238.8 541.72 L1240.27 541.43 L1241.75 541.14 L1243.22 540.84 L1244.7 540.53 L1246.17 540.23 L1247.64 539.92 L1249.11 539.6 L1250.57 539.28 L1252.04 538.95 L1253.5 538.62 L1254.96 538.29 L1256.42 537.95 L1257.88 537.6 L1259.33 537.25 L1260.78 536.89 L1262.23 536.52 L1263.68 536.15 L1265.12 535.77 L1266.56 535.39 L1268 535 L1269.44 534.6 L1270.87 534.19 L1272.3 533.77 L1273.73 533.35 L1275.15 532.92 L1276.58 532.48 L1277.99 532.03 L1279.41 531.57 L1280.82 531.1 L1282.22 530.63 L1283.63 530.14 L1285.03 529.64 L1286.42 529.14 L1287.82 528.62 L1289.2 528.1 L1290.59 527.56 L1291.97 527.01 L1293.34 526.46 L1294.72 525.89 L1296.09 525.31 L1297.45 524.73 L1298.82 524.13 L1300.18 523.53 L1301.53 522.92 L1302.89 522.3 L1304.24 521.67 L1305.59 521.04 L1306.94 520.4 L1308.29 519.76 L1309.63 519.11 L1310.98 518.45 L1312.32 517.79 L1313.67 517.13 L1315.01 516.46 L1316.35 515.79 L1317.69 515.11 L1319.03 514.43 L1320.37 513.75 L1321.71 513.07 L1323.06 512.38 L1324.4 511.69 L1325.74 511.01 L1327.09 510.32 L1328.43 509.63 L1329.78 508.94 L1331.13 508.25 L1332.48 507.56 L1333.83 506.87 L1335.19 506.19 L1336.55 505.5 L1337.91 504.82 L1339.27 504.14 L1340.64 503.47 L1342.01 502.79 L1343.38 502.12 L1344.75 501.45 L1346.12 500.78 L1347.5 500.12 L1348.87 499.45 L1350.25 498.78 L1351.62 498.11 L1352.99 497.44 L1354.36 496.76 L1355.73 496.08 L1357.09 495.4 L1358.45 494.71 L1359.81 494.02 L1361.16 493.33 L1362.51 492.63 L1363.85 491.92 L1365.18 491.2 L1366.51 490.48 L1367.83 489.75 L1369.15 489.01 L1370.45 488.26 L1371.75 487.5 L1373.03 486.72 L1374.31 485.94 L1375.58 485.15 L1376.83 484.34 L1378.07 483.53 L1379.31 482.69 L1380.53 481.85 L1381.73 480.99 L1382.93 480.11 L1384.11 479.22 L1385.27 478.31 L1386.42 477.39 L1387.55 476.45 L1388.67 475.49 L1389.77 474.51 L1390.86 473.51 L1391.92 472.5 L1392.97 471.46 L1394 470.4 L1395.02 469.33 L1396.02 468.24 L1397 467.13 L1397.97 466.01 L1398.92 464.87 L1399.85 463.71 L1400.77 462.54 L1401.68 461.36 L1402.57 460.16 L1403.45 458.95 L1404.31 457.72 L1405.16 456.49 L1406 455.24 L1406.82 453.98 L1407.63 452.71 L1408.43 451.44 L1409.22 450.15 L1409.99 448.85 L1410.76 447.55 L1411.51 446.24 L1412.26 444.92 L1412.99 443.59 L1413.71 442.26 L1414.42 440.93 L1415.12 439.59 L1415.82 438.24 L1416.5 436.89 L1417.18 435.54 L1417.85 434.19 L1418.51 432.83 L1419.16 431.47 L1419.8 430.11 L1420.43 428.74 L1421.06 427.37 L1421.68 426 L1422.29 424.62 L1422.89 423.25 L1423.48 421.87 L1424.07 420.48 L1424.65 419.1 L1425.22 417.71 L1425.78 416.32 L1426.34 414.92 L1426.89 413.53 L1427.43 412.13 L1427.97 410.73 L1428.5 409.33 L1429.02 407.92 L1429.53 406.51 L1430.04 405.1 L1430.54 403.69 L1431.03 402.28 L1431.52 400.86 L1432 399.44 L1432.47 398.02 L1432.94 396.6 L1433.4 395.17 L1433.86 393.74 L1434.3 392.31 L1434.75 390.88 L1435.18 389.45 L1435.61 388.01 L1436.04 386.58 L1436.46 385.14 L1436.87 383.7 L1437.28 382.25 L1437.68 380.81 L1438.08 379.36 L1438.47 377.92 L1438.86 376.47 L1439.24 375.02 L1439.62 373.57 L1439.99 372.11 L1440.35 370.66 L1440.71 369.2 L1441.07 367.74 L1441.42 366.28 L1441.77 364.82 L1442.11 363.36 L1442.45 361.9 L1442.78 360.43 L1443.11 358.96 L1443.44 357.5 L1443.76 356.03 L1444.08 354.56 L1444.39 353.09 L1444.7 351.62 L1445 350.15 L1445.3 348.67 L1445.6 347.2 L1445.9 345.72 L1446.19 344.25 L1446.47 342.77 L1446.76 341.29 L1447.04 339.81 L1447.31 338.33 L1447.59 336.85 L1447.86 335.37 L1448.13 333.89 L1448.39 332.41 L1448.65 330.93 L1448.91 329.44 L1449.17 327.96 L1449.43 326.48 L1449.68 324.99 L1449.93 323.51 L1450.17 322.02 L1450.42 320.53 L1450.66 319.05 L1450.9 317.56 L1451.14 316.08 L1451.38 314.59 L1451.61 313.1 L1451.84 311.62 L1452.07 310.13 L1452.3 308.64 L1452.53 307.16 L1452.76 305.67 L1452.98 304.18 L1453.21 302.69 L1453.43 301.21 L1453.65 299.72 L1453.87 298.23 L1454.09 296.75 L1454.31 295.26 L1454.53 293.78 L1454.74 292.29 L1454.96 290.81 L1455.17 289.32 L1455.39 287.84 L1455.6 286.35 L1455.82 284.87 L1456.03 283.39 L1456.24 281.91 L1456.46 280.42 L1456.67 278.94 L1456.88 277.46 L1457.1 275.98 L1457.31 274.5 L1457.52 273.03 L1457.74 271.55 L1457.95 270.07 L1458.17 268.6 L1458.38 267.12 L1458.6 265.64 L1458.81 264.17 L1459.03 262.69 L1459.25 261.22 L1459.47 259.74 L1459.68 258.27 L1459.9 256.79 L1460.12 255.32 L1460.34 253.84 L1460.56 252.37 L1460.78 250.89 L1461 249.41 L1461.23 247.94 L1461.45 246.46 L1461.68 244.98 L1461.9 243.5 L1462.13 242.02 L1462.35 240.54 L1462.58 239.06 L1462.81 237.58 L1463.04 236.1 L1463.27 234.61 L1463.5 233.13 L1463.74 231.64 L1463.97 230.16 L1464.21 228.67 L1464.45 227.18 L1464.68 225.68 L1464.92 224.19 L1465.16 222.7 L1465.41 221.2 L1465.65 219.7 L1465.9 218.2 L1466.14 216.7 L1466.39 215.2 L1466.64 213.69 L1466.89 212.18 L1467.14 210.67 L1467.4 209.16 L1467.65 207.65 L1467.91 206.13 L1468.17 204.61 L1468.43 203.1 L1468.69 201.58 L1468.95 200.06 L1469.21 198.55 L1469.47 197.03 L1469.74 195.52 L1470 194.01 L1470.26 192.51 L1470.52 191.01 L1470.78 189.51 L1471.04 188.02 L1471.3 186.53 L1471.55 185.05 L1471.81 183.57 L1472.06 182.1 L1472.32 180.64 L1472.57 179.19 L1472.81 177.75 L1473.06 176.31 L1473.3 174.89 L1473.54 173.47 L1473.78 172.07 L1474.01 170.67 L1474.25 169.29 L1474.47 167.92 L1474.7 166.55 L1474.96 165.16 L1475.26 163.71 L1475.63 162.18 L1476.08 160.54 L1476.64 158.77 L1477.3 157.14 L1477.99 156.21 L1478.68 156.47 L1479.32 157.76 L1479.88 159.52 L1480.32 161.24 L1480.66 162.85 L1480.92 164.36 L1481.13 165.81 L1481.3 167.22 L1481.46 168.63 L1481.62 170.04 L1481.79 171.48 L1481.97 172.92 L1482.14 174.37 L1482.33 175.83 L1482.51 177.31 L1482.7 178.79 L1482.89 180.27 L1483.07 181.76 L1483.26 183.26 L1483.45 184.75 L1483.64 186.25 L1483.82 187.75 L1484 189.25 L1484.19 190.75 L1484.36 192.25 L1484.54 193.75 L1484.71 195.26 L1484.88 196.76 L1485.05 198.26 L1485.22 199.76 L1485.39 201.26 L1485.55 202.76 L1485.71 204.26 L1485.87 205.76 L1486.02 207.26 L1486.18 208.76 L1486.33 210.26 L1486.48 211.76 L1486.63 213.26 L1486.78 214.76 L1486.93 216.26 L1487.07 217.77 L1487.21 219.27 L1487.35 220.77 L1487.49 222.27 L1487.63 223.77 L1487.76 225.27 L1487.9 226.77 L1488.03 228.27 L1488.16 229.77 L1488.29 231.27 L1488.41 232.77 L1488.54 234.27 L1488.66 235.78 L1488.79 237.28 L1488.91 238.78 L1489.03 240.28 L1489.15 241.78 L1489.26 243.28 L1489.38 244.78 L1489.49 246.28 L1489.61 247.78 L1489.72 249.28 L1489.83 250.78 L1489.94 252.28 L1490.05 253.78 L1490.16 255.28 L1490.26 256.78 L1490.37 258.28 L1490.47 259.78 L1490.58 261.28 L1490.68 262.78 L1490.78 264.28 L1490.88 265.78 L1490.98 267.28 L1491.08 268.78 L1491.18 270.27 L1491.27 271.77 L1491.37 273.27 L1491.46 274.77 L1491.56 276.27 L1491.65 277.77 L1491.75 279.27 L1491.84 280.76 L1491.93 282.26 L1492.02 283.76 L1492.11 285.26 L1492.2 286.76 L1492.29 288.25 L1492.38 289.75 L1492.47 291.25 L1492.56 292.74 L1492.64 294.24 L1492.73 295.74 L1492.82 297.23 L1492.9 298.73 L1492.99 300.23 L1493.08 301.72 L1493.16 303.22 L1493.25 304.71 L1493.33 306.21 L1493.42 307.71 L1493.51 309.2 L1493.59 310.7 L1493.68 312.19 L1493.77 313.68 L1493.85 315.18 L1493.94 316.67 L1494.03 318.17 L1494.12 319.66 L1494.21 321.15 L1494.31 322.65 L1494.4 324.14 L1494.5 325.63 L1494.59 327.13 L1494.69 328.62 L1494.79 330.11 L1494.89 331.6 L1494.99 333.1 L1495.1 334.59 L1495.21 336.08 L1495.31 337.57 L1495.43 339.06 L1495.54 340.56 L1495.66 342.05 L1495.78 343.54 L1495.9 345.03 L1496.02 346.52 L1496.15 348.01 L1496.28 349.5 L1496.41 350.99 L1496.55 352.48 L1496.69 353.97 L1496.83 355.46 L1496.97 356.95 L1497.12 358.44 L1497.28 359.93 L1497.43 361.41 L1497.6 362.9 L1497.76 364.39 L1497.93 365.88 L1498.1 367.37 L1498.28 368.86 L1498.46 370.34 L1498.65 371.83 L1498.84 373.32 L1499.03 374.81 L1499.23 376.29 L1499.44 377.78 L1499.65 379.27 L1499.86 380.75 L1500.08 382.24 L1500.31 383.73 L1500.54 385.21 L1500.77 386.7 L1501.02 388.18 L1501.26 389.67 L1501.52 391.15 L1501.78 392.64 L1502.04 394.12 L1502.31 395.61 L1502.59 397.09 L1502.87 398.58 L1503.16 400.06 L1503.46 401.55 L1503.76 403.03 L1504.07 404.51 L1504.39 405.99 L1504.71 407.48 L1505.04 408.96 L1505.38 410.43 L1505.72 411.91 L1506.08 413.39 L1506.44 414.86 L1506.81 416.33 L1507.19 417.8 L1507.57 419.27 L1507.97 420.73 L1508.37 422.19 L1508.78 423.65 L1509.2 425.11 L1509.63 426.56 L1510.07 428.01 L1510.52 429.45 L1510.98 430.89 L1511.45 432.33 L1511.92 433.76 L1512.41 435.18 L1512.91 436.61 L1513.42 438.02 L1513.93 439.44 L1514.46 440.84 L1515 442.24 L1515.55 443.64 L1516.12 445.03 L1516.69 446.41 L1517.27 447.79 L1517.87 449.16 L1518.48 450.52 L1519.1 451.88 L1519.73 453.23 L1520.37 454.57 L1521.03 455.91 L1521.7 457.23 L1522.38 458.55 L1523.07 459.86 L1523.78 461.17 L1524.5 462.46 L1525.23 463.75 L1525.98 465.03 L1526.74 466.29 L1527.51 467.55 L1528.3 468.8 L1529.1 470.04 L1529.92 471.27 L1530.75 472.49 L1531.59 473.7 L1532.45 474.9 L1533.33 476.09 L1534.22 477.27 L1535.12 478.44 L1536.04 479.6 L1536.98 480.74 L1537.93 481.88 L1538.89 483 L1539.87 484.11 L1540.87 485.21 L1541.89 486.29 L1542.92 487.37 L1543.96 488.43 L1545.03 489.48 L1546.11 490.51 L1547.2 491.54 L1548.31 492.55 L1549.44 493.54 L1550.58 494.53 L1551.73 495.5 L1552.9 496.46 L1554.08 497.41 L1555.28 498.34 L1556.48 499.27 L1557.7 500.18 L1558.93 501.07 L1560.17 501.96 L1561.43 502.83 L1562.69 503.7 L1563.96 504.55 L1565.24 505.38 L1566.53 506.21 L1567.83 507.02 L1569.13 507.83 L1570.45 508.62 L1571.77 509.4 L1573.1 510.16 L1574.43 510.92 L1575.77 511.66 L1577.12 512.4 L1578.47 513.12 L1579.82 513.83 L1581.18 514.53 L1582.54 515.21 L1583.91 515.89 L1585.28 516.55 L1586.65 517.21 L1588.02 517.85 L1589.4 518.48 L1590.78 519.1 L1592.16 519.72 L1593.54 520.32 L1594.93 520.9 L1596.32 521.48 L1597.71 522.05 L1599.1 522.61 L1600.49 523.16 L1601.89 523.7 L1603.29 524.23 L1604.69 524.75 L1606.1 525.25 L1607.5 525.75 L1608.91 526.24 L1610.32 526.73 L1611.73 527.2 L1613.15 527.66 L1614.57 528.11 L1615.99 528.56 L1617.41 528.99 L1618.83 529.42 L1620.26 529.84 L1621.68 530.25 L1623.11 530.65 L1624.55 531.04 L1625.98 531.43 L1627.42 531.8 L1628.85 532.17 L1630.29 532.53 L1631.74 532.89 L1633.18 533.23 L1634.63 533.57 L1636.07 533.9 L1637.52 534.22 L1638.98 534.54 L1640.43 534.85 L1641.89 535.15 L1643.34 535.44 L1644.8 535.73 L1646.26 536.01 L1647.73 536.29 L1649.19 536.56 L1650.66 536.82 L1652.13 537.07 L1653.6 537.32 L1655.07 537.56 L1656.55 537.8 L1658.02 538.03 L1659.5 538.25 L1660.98 538.47 L1662.46 538.69 L1663.94 538.89 L1665.43 539.1 L1666.91 539.29 L1668.4 539.49 L1669.89 539.67 L1671.38 539.86 L1672.87 540.03 L1674.37 540.2 L1675.86 540.37 L1677.36 540.53 L1678.86 540.69 L1680.36 540.85 L1681.86 541 L1683.37 541.14 L1684.87 541.28 L1686.38 541.42 L1687.89 541.56 L1689.4 541.69 L1690.91 541.81 L1692.42 541.93 L1693.93 542.05 L1695.45 542.17 L1696.97 542.28 L1698.48 542.39 L1700 542.5" fill="none" stroke="#ff0000" stroke-width="6" stroke-linecap="round" stroke-linejoin="round" clip-path="url(#ca)"/>
<line x1="905" y1="8.03" x2="905" y2="575.25" stroke="#000" stroke-width="2.1" stroke-linecap="butt"/>
<line x1="903.95" y1="574.2" x2="1664.41" y2="574.2" stroke="#000" stroke-width="2.1" stroke-linecap="butt"/>
<line x1="893.1" y1="570.2" x2="905" y2="570.2" stroke="#000" stroke-width="2.1" stroke-linecap="butt"/>
<line x1="893.1" y1="490.04" x2="905" y2="490.04" stroke="#000" stroke-width="2.1" stroke-linecap="butt"/>
<line x1="893.1" y1="409.88" x2="905" y2="409.88" stroke="#000" stroke-width="2.1" stroke-linecap="butt"/>
<line x1="893.1" y1="329.72" x2="905" y2="329.72" stroke="#000" stroke-width="2.1" stroke-linecap="butt"/>
<line x1="893.1" y1="249.56" x2="905" y2="249.56" stroke="#000" stroke-width="2.1" stroke-linecap="butt"/>
<line x1="893.1" y1="169.4" x2="905" y2="169.4" stroke="#000" stroke-width="2.1" stroke-linecap="butt"/>
<line x1="893.1" y1="89.24" x2="905" y2="89.24" stroke="#000" stroke-width="2.1" stroke-linecap="butt"/>
<line x1="893.1" y1="9.08" x2="905" y2="9.08" stroke="#000" stroke-width="2.1" stroke-linecap="butt"/>
<line x1="898.5" y1="530.12" x2="905" y2="530.12" stroke="#000" stroke-width="2.1" stroke-linecap="butt"/>
<line x1="898.5" y1="449.96" x2="905" y2="449.96" stroke="#000" stroke-width="2.1" stroke-linecap="butt"/>
<line x1="898.5" y1="369.8" x2="905" y2="369.8" stroke="#000" stroke-width="2.1" stroke-linecap="butt"/>
<line x1="898.5" y1="289.64" x2="905" y2="289.64" stroke="#000" stroke-width="2.1" stroke-linecap="butt"/>
<line x1="898.5" y1="209.48" x2="905" y2="209.48" stroke="#000" stroke-width="2.1" stroke-linecap="butt"/>
<line x1="898.5" y1="129.32" x2="905" y2="129.32" stroke="#000" stroke-width="2.1" stroke-linecap="butt"/>
<line x1="898.5" y1="49.16" x2="905" y2="49.16" stroke="#000" stroke-width="2.1" stroke-linecap="butt"/>
<line x1="968" y1="574.2" x2="968" y2="586" stroke="#000" stroke-width="2.1" stroke-linecap="butt"/>
<line x1="1094.43" y1="574.2" x2="1094.43" y2="586" stroke="#000" stroke-width="2.1" stroke-linecap="butt"/>
<line x1="1220.86" y1="574.2" x2="1220.86" y2="586" stroke="#000" stroke-width="2.1" stroke-linecap="butt"/>
<line x1="1347.29" y1="574.2" x2="1347.29" y2="586" stroke="#000" stroke-width="2.1" stroke-linecap="butt"/>
<line x1="1473.72" y1="574.2" x2="1473.72" y2="586" stroke="#000" stroke-width="2.1" stroke-linecap="butt"/>
<line x1="1600.15" y1="574.2" x2="1600.15" y2="586" stroke="#000" stroke-width="2.1" stroke-linecap="butt"/>
<line x1="904.78" y1="574.2" x2="904.78" y2="580.8" stroke="#000" stroke-width="2.1" stroke-linecap="butt"/>
<line x1="1031.21" y1="574.2" x2="1031.21" y2="580.8" stroke="#000" stroke-width="2.1" stroke-linecap="butt"/>
<line x1="1157.64" y1="574.2" x2="1157.64" y2="580.8" stroke="#000" stroke-width="2.1" stroke-linecap="butt"/>
<line x1="1284.08" y1="574.2" x2="1284.08" y2="580.8" stroke="#000" stroke-width="2.1" stroke-linecap="butt"/>
<line x1="1410.51" y1="574.2" x2="1410.51" y2="580.8" stroke="#000" stroke-width="2.1" stroke-linecap="butt"/>
<line x1="1536.93" y1="574.2" x2="1536.93" y2="580.8" stroke="#000" stroke-width="2.1" stroke-linecap="butt"/>
<line x1="1663.37" y1="574.2" x2="1663.37" y2="580.8" stroke="#000" stroke-width="2.1" stroke-linecap="butt"/>
<line x1="944.8" y1="60" x2="1009.8" y2="60" stroke="#2173b1" stroke-width="6" stroke-linecap="round"/>
<line x1="944.8" y1="96" x2="1009.8" y2="96" stroke="#ff0000" stroke-width="6" stroke-linecap="round"/>
<text transform="translate(941.48,25.9) scale(1.0412,1)" font-family='"Liberation Sans", sans-serif' font-size="28.2" fill="#000" stroke="#000" stroke-width="0.3">Solvent:</text>
<text transform="translate(1018.07,69.1) scale(1.0402,1)" font-family='"Liberation Sans", sans-serif' font-size="28.34" fill="#000" stroke="#000" stroke-width="0.3">Methanol</text>
<text transform="translate(1019.35,105.1) scale(1.0274,1)" font-family='"Liberation Sans", sans-serif' font-size="28.34" fill="#000" stroke="#000" stroke-width="0.3">Water</text>
<text transform="translate(853.87,577.6) scale(1.0022,1)" font-family='"Liberation Sans", sans-serif' font-size="23.11" fill="#000" stroke="#000" stroke-width="0.3">0,0</text>
<text transform="translate(853.86,497.44) scale(1.0119,1)" font-family='"Liberation Sans", sans-serif' font-size="23.11" fill="#000" stroke="#000" stroke-width="0.3">0,2</text>
<text transform="translate(853.88,417.28) scale(0.9946,1)" font-family='"Liberation Sans", sans-serif' font-size="23.11" fill="#000" stroke="#000" stroke-width="0.3">0,4</text>
<text transform="translate(853.87,337.12) scale(1.0061,1)" font-family='"Liberation Sans", sans-serif' font-size="23.11" fill="#000" stroke="#000" stroke-width="0.3">0,6</text>
<text transform="translate(853.87,256.96) scale(1.0061,1)" font-family='"Liberation Sans", sans-serif' font-size="23.11" fill="#000" stroke="#000" stroke-width="0.3">0,8</text>
<text transform="translate(855.98,176.8) scale(0.9348,1)" font-family='"Liberation Sans", sans-serif' font-size="23.11" fill="#000" stroke="#000" stroke-width="0.3">1,0</text>
<text transform="translate(855.96,96.64) scale(0.9441,1)" font-family='"Liberation Sans", sans-serif' font-size="23.11" fill="#000" stroke="#000" stroke-width="0.3">1,2</text>
<text transform="translate(855.99,16.48) scale(0.9276,1)" font-family='"Liberation Sans", sans-serif' font-size="23.11" fill="#000" stroke="#000" stroke-width="0.3">1,4</text>
<text transform="translate(948.67,611.9) scale(1.0058,1)" font-family='"Liberation Sans", sans-serif' font-size="23.26" fill="#000" stroke="#000" stroke-width="0.3">400</text>
<text transform="translate(1074.68,611.9) scale(1.0169,1)" font-family='"Liberation Sans", sans-serif' font-size="23.26" fill="#000" stroke="#000" stroke-width="0.3">500</text>
<text transform="translate(1200.87,611.9) scale(1.0233,1)" font-family='"Liberation Sans", sans-serif' font-size="23.26" fill="#000" stroke="#000" stroke-width="0.3">600</text>
<text transform="translate(1327.24,611.9) scale(1.0249,1)" font-family='"Liberation Sans", sans-serif' font-size="23.26" fill="#000" stroke="#000" stroke-width="0.3">700</text>
<text transform="translate(1453.91,611.9) scale(1.0185,1)" font-family='"Liberation Sans", sans-serif' font-size="23.26" fill="#000" stroke="#000" stroke-width="0.3">800</text>
<text transform="translate(1580.22,611.9) scale(1.0217,1)" font-family='"Liberation Sans", sans-serif' font-size="23.26" fill="#000" stroke="#000" stroke-width="0.3">900</text>
<text transform="translate(1179.85,653.45) scale(1.0015,1)" font-family='"Liberation Sans", sans-serif' font-size="29.22" fill="#000" stroke="#000" stroke-width="0.3">Wavelength, nm</text>
<text transform="translate(832.6,389.5) rotate(-90) translate(-0.07,0) scale(1.0754,1)" font-family='"Liberation Sans", sans-serif' font-size="27.62" fill="#000" stroke="#000" stroke-width="0.3">Absorbance</text>
</g>
<g id="chart-b">
<clipPath id="cc"><rect x="900" y="690" width="800" height="603.8"/></clipPath>
<path d="M908.13 1230.92 L909.18 1231.96 L910.24 1233 L911.29 1234.05 L912.34 1235.1 L913.39 1236.16 L914.44 1237.23 L915.5 1238.3 L916.55 1239.37 L917.6 1240.45 L918.66 1241.52 L919.72 1242.6 L920.78 1243.67 L921.84 1244.74 L922.91 1245.81 L923.99 1246.87 L925.07 1247.93 L926.15 1248.98 L927.25 1250.03 L928.34 1251.06 L929.45 1252.09 L930.56 1253.1 L931.69 1254.11 L932.82 1255.1 L933.96 1256.08 L935.11 1257.04 L936.27 1257.99 L937.45 1258.92 L938.63 1259.84 L939.83 1260.73 L941.04 1261.61 L942.26 1262.47 L943.5 1263.3 L944.75 1264.11 L946.01 1264.9 L947.3 1265.67 L948.59 1266.41 L949.91 1267.12 L951.24 1267.8 L952.59 1268.46 L953.94 1269.1 L955.31 1269.73 L956.69 1270.33 L958.08 1270.93 L959.47 1271.52 L960.86 1272.1 L962.26 1272.69 L963.65 1273.27 L965.04 1273.86 L966.42 1274.46 L967.8 1275.08 L969.17 1275.7 L970.52 1276.35 L971.86 1277.02 L973.19 1277.71 L974.5 1278.44 L975.78 1279.19 L977.05 1279.99 L978.29 1280.81 L979.51 1281.68 L980.72 1282.56 L981.92 1283.45 L983.12 1284.34 L984.33 1285.22 L985.55 1286.07 L986.8 1286.87 L988.07 1287.63 L989.37 1288.33 L990.72 1288.95 L992.12 1289.49 L993.56 1289.94 L995.03 1290.32 L996.53 1290.63 L998.05 1290.87 L999.58 1291.07 L1001.1 1291.22 L1002.62 1291.32 L1004.13 1291.39 L1005.64 1291.42 L1007.14 1291.41 L1008.64 1291.37 L1010.13 1291.29 L1011.62 1291.18 L1013.1 1291.03 L1014.58 1290.86 L1016.06 1290.66 L1017.53 1290.43 L1018.99 1290.18 L1020.45 1289.9 L1021.9 1289.6 L1023.35 1289.27 L1024.8 1288.93 L1026.24 1288.57 L1027.68 1288.19 L1029.11 1287.79 L1030.54 1287.38 L1031.96 1286.95 L1033.38 1286.5 L1034.8 1286.05 L1036.21 1285.58 L1037.63 1285.09 L1039.03 1284.6 L1040.44 1284.09 L1041.84 1283.57 L1043.24 1283.05 L1044.64 1282.51 L1046.04 1281.97 L1047.43 1281.42 L1048.83 1280.86 L1050.22 1280.3 L1051.61 1279.74 L1053 1279.16 L1054.39 1278.59 L1055.78 1278.01 L1057.17 1277.43 L1058.56 1276.85 L1059.95 1276.27 L1061.34 1275.69 L1062.73 1275.12 L1064.12 1274.54 L1065.52 1273.97 L1066.91 1273.4 L1068.3 1272.83 L1069.7 1272.27 L1071.1 1271.71 L1072.5 1271.17 L1073.9 1270.62 L1075.31 1270.09 L1076.71 1269.57 L1078.12 1269.05 L1079.54 1268.55 L1080.95 1268.05 L1082.37 1267.57 L1083.79 1267.1 L1085.22 1266.65 L1086.65 1266.21 L1088.09 1265.78 L1089.52 1265.37 L1090.97 1264.98 L1092.42 1264.6 L1093.87 1264.24 L1095.33 1263.9 L1096.79 1263.58 L1098.26 1263.28 L1099.74 1263 L1101.22 1262.74 L1102.7 1262.5 L1104.19 1262.27 L1105.68 1262.05 L1107.17 1261.82 L1108.65 1261.59 L1110.12 1261.34 L1111.59 1261.08 L1113.05 1260.79 L1114.5 1260.48 L1115.94 1260.13 L1117.36 1259.73 L1118.76 1259.29 L1120.14 1258.8 L1121.5 1258.25 L1122.84 1257.63 L1124.15 1256.95 L1125.44 1256.19 L1126.7 1255.36 L1127.93 1254.47 L1129.15 1253.52 L1130.33 1252.52 L1131.5 1251.48 L1132.65 1250.41 L1133.78 1249.3 L1134.89 1248.18 L1135.99 1247.03 L1137.07 1245.88 L1138.13 1244.72 L1139.18 1243.57 L1140.22 1242.42 L1141.25 1241.29 L1142.27 1240.16 L1143.27 1239.04 L1144.27 1237.92 L1145.25 1236.8 L1146.23 1235.67 L1147.19 1234.55 L1148.15 1233.41 L1149.09 1232.27 L1150.03 1231.12 L1150.95 1229.97 L1151.87 1228.81 L1152.77 1227.64 L1153.67 1226.46 L1154.55 1225.28 L1155.43 1224.09 L1156.3 1222.89 L1157.16 1221.69 L1158.01 1220.48 L1158.86 1219.26 L1159.69 1218.04 L1160.52 1216.81 L1161.33 1215.58 L1162.14 1214.34 L1162.94 1213.09 L1163.74 1211.84 L1164.52 1210.59 L1165.3 1209.32 L1166.07 1208.05 L1166.83 1206.78 L1167.59 1205.5 L1168.34 1204.22 L1169.08 1202.93 L1169.81 1201.64 L1170.54 1200.34 L1171.26 1199.04 L1171.97 1197.73 L1172.68 1196.42 L1173.38 1195.1 L1174.07 1193.78 L1174.76 1192.45 L1175.44 1191.12 L1176.11 1189.79 L1176.78 1188.45 L1177.45 1187.11 L1178.1 1185.76 L1178.76 1184.41 L1179.4 1183.06 L1180.04 1181.7 L1180.68 1180.35 L1181.31 1178.98 L1181.94 1177.62 L1182.56 1176.25 L1183.17 1174.87 L1183.79 1173.5 L1184.39 1172.12 L1184.99 1170.74 L1185.59 1169.36 L1186.19 1167.97 L1186.78 1166.58 L1187.36 1165.19 L1187.94 1163.8 L1188.52 1162.4 L1189.09 1161.01 L1189.67 1159.61 L1190.23 1158.21 L1190.8 1156.8 L1191.36 1155.4 L1191.91 1153.99 L1192.47 1152.58 L1193.02 1151.18 L1193.57 1149.77 L1194.11 1148.35 L1194.66 1146.94 L1195.2 1145.53 L1195.74 1144.11 L1196.27 1142.7 L1196.81 1141.28 L1197.34 1139.87 L1197.87 1138.45 L1198.4 1137.03 L1198.93 1135.61 L1199.45 1134.2 L1199.98 1132.78 L1200.5 1131.36 L1201.02 1129.94 L1201.54 1128.52 L1202.06 1127.11 L1202.58 1125.69 L1203.09 1124.27 L1203.61 1122.85 L1204.12 1121.43 L1204.63 1120.01 L1205.14 1118.59 L1205.65 1117.18 L1206.16 1115.76 L1206.66 1114.34 L1207.17 1112.92 L1207.67 1111.5 L1208.17 1110.08 L1208.66 1108.66 L1209.16 1107.24 L1209.65 1105.82 L1210.15 1104.4 L1210.64 1102.97 L1211.13 1101.55 L1211.61 1100.13 L1212.1 1098.71 L1212.58 1097.29 L1213.06 1095.86 L1213.54 1094.44 L1214.01 1093.02 L1214.48 1091.59 L1214.96 1090.17 L1215.42 1088.75 L1215.89 1087.32 L1216.35 1085.89 L1216.82 1084.47 L1217.28 1083.04 L1217.73 1081.62 L1218.19 1080.19 L1218.64 1078.76 L1219.09 1077.33 L1219.54 1075.9 L1219.98 1074.47 L1220.42 1073.04 L1220.86 1071.61 L1221.3 1070.18 L1221.73 1068.75 L1222.16 1067.32 L1222.59 1065.89 L1223.01 1064.45 L1223.44 1063.02 L1223.86 1061.58 L1224.27 1060.15 L1224.69 1058.71 L1225.1 1057.27 L1225.5 1055.84 L1225.91 1054.4 L1226.31 1052.96 L1226.71 1051.52 L1227.1 1050.08 L1227.5 1048.64 L1227.88 1047.2 L1228.27 1045.75 L1228.65 1044.31 L1229.03 1042.86 L1229.41 1041.42 L1229.78 1039.97 L1230.15 1038.52 L1230.51 1037.08 L1230.87 1035.63 L1231.23 1034.18 L1231.59 1032.73 L1231.94 1031.28 L1232.28 1029.82 L1232.63 1028.37 L1232.97 1026.92 L1233.3 1025.46 L1233.64 1024 L1233.97 1022.55 L1234.29 1021.09 L1234.61 1019.63 L1234.93 1018.17 L1235.24 1016.71 L1235.55 1015.24 L1235.86 1013.78 L1236.16 1012.31 L1236.46 1010.85 L1236.75 1009.38 L1237.04 1007.91 L1237.32 1006.44 L1237.6 1004.97 L1237.88 1003.5 L1238.16 1002.03 L1238.43 1000.55 L1238.69 999.08 L1238.96 997.6 L1239.21 996.13 L1239.47 994.65 L1239.72 993.17 L1239.97 991.69 L1240.22 990.21 L1240.46 988.73 L1240.7 987.25 L1240.94 985.77 L1241.18 984.29 L1241.41 982.8 L1241.64 981.32 L1241.87 979.83 L1242.09 978.35 L1242.31 976.86 L1242.53 975.37 L1242.75 973.88 L1242.96 972.4 L1243.18 970.91 L1243.39 969.42 L1243.6 967.93 L1243.81 966.44 L1244.01 964.95 L1244.21 963.46 L1244.42 961.96 L1244.62 960.47 L1244.82 958.98 L1245.01 957.49 L1245.21 955.99 L1245.4 954.5 L1245.6 953.01 L1245.79 951.51 L1245.98 950.02 L1246.17 948.53 L1246.36 947.03 L1246.55 945.54 L1246.74 944.04 L1246.93 942.55 L1247.12 941.05 L1247.3 939.56 L1247.49 938.06 L1247.68 936.57 L1247.86 935.07 L1248.05 933.58 L1248.23 932.08 L1248.42 930.59 L1248.6 929.09 L1248.79 927.6 L1248.97 926.1 L1249.16 924.61 L1249.35 923.12 L1249.53 921.62 L1249.72 920.13 L1249.91 918.63 L1250.1 917.14 L1250.29 915.65 L1250.48 914.16 L1250.67 912.66 L1250.86 911.17 L1251.06 909.68 L1251.25 908.19 L1251.45 906.7 L1251.64 905.21 L1251.84 903.72 L1252.04 902.23 L1252.24 900.74 L1252.44 899.26 L1252.65 897.77 L1252.85 896.28 L1253.06 894.79 L1253.26 893.31 L1253.47 891.82 L1253.68 890.34 L1253.89 888.85 L1254.1 887.37 L1254.32 885.88 L1254.53 884.4 L1254.74 882.91 L1254.96 881.43 L1255.18 879.95 L1255.39 878.46 L1255.61 876.98 L1255.83 875.5 L1256.05 874.02 L1256.27 872.53 L1256.49 871.05 L1256.71 869.57 L1256.94 868.09 L1257.16 866.61 L1257.39 865.13 L1257.61 863.65 L1257.84 862.17 L1258.06 860.69 L1258.29 859.21 L1258.52 857.73 L1258.75 856.25 L1258.98 854.77 L1259.21 853.29 L1259.44 851.81 L1259.67 850.33 L1259.9 848.85 L1260.13 847.37 L1260.36 845.89 L1260.6 844.41 L1260.83 842.94 L1261.06 841.46 L1261.3 839.98 L1261.53 838.5 L1261.76 837.02 L1262 835.54 L1262.23 834.06 L1262.47 832.58 L1262.7 831.11 L1262.94 829.63 L1263.18 828.15 L1263.41 826.67 L1263.65 825.19 L1263.88 823.71 L1264.12 822.23 L1264.36 820.75 L1264.59 819.27 L1264.83 817.8 L1265.06 816.32 L1265.3 814.84 L1265.54 813.36 L1265.77 811.88 L1266.01 810.4 L1266.25 808.92 L1266.48 807.44 L1266.72 805.96 L1266.95 804.48 L1267.19 803 L1267.42 801.51 L1267.66 800.03 L1267.9 798.55 L1268.13 797.08 L1268.37 795.6 L1268.61 794.12 L1268.85 792.65 L1269.1 791.17 L1269.34 789.7 L1269.59 788.23 L1269.85 786.77 L1270.1 785.3 L1270.36 783.84 L1270.62 782.39 L1270.89 780.94 L1271.16 779.49 L1271.43 778.04 L1271.71 776.6 L1271.99 775.16 L1272.28 773.73 L1272.58 772.31 L1272.89 770.87 L1273.23 769.39 L1273.62 767.84 L1274.08 766.19 L1274.63 764.41 L1275.26 762.68 L1275.96 761.54 L1276.71 761.53 L1277.46 762.65 L1278.17 764.36 L1278.79 766.11 L1279.31 767.7 L1279.75 769.17 L1280.12 770.55 L1280.45 771.89 L1280.76 773.22 L1281.06 774.57 L1281.34 775.93 L1281.61 777.3 L1281.87 778.69 L1282.12 780.09 L1282.36 781.5 L1282.6 782.93 L1282.82 784.36 L1283.03 785.81 L1283.24 787.27 L1283.44 788.73 L1283.63 790.21 L1283.81 791.69 L1283.99 793.19 L1284.16 794.69 L1284.32 796.19 L1284.48 797.71 L1284.64 799.22 L1284.79 800.75 L1284.93 802.28 L1285.08 803.81 L1285.21 805.34 L1285.35 806.88 L1285.48 808.42 L1285.61 809.97 L1285.74 811.51 L1285.87 813.05 L1286 814.6 L1286.12 816.14 L1286.25 817.68 L1286.38 819.23 L1286.5 820.76 L1286.63 822.3 L1286.76 823.83 L1286.89 825.36 L1287.03 826.89 L1287.16 828.41 L1287.29 829.94 L1287.43 831.46 L1287.56 832.97 L1287.7 834.49 L1287.84 836 L1287.98 837.51 L1288.12 839.02 L1288.25 840.52 L1288.39 842.03 L1288.53 843.53 L1288.67 845.03 L1288.82 846.53 L1288.96 848.03 L1289.1 849.52 L1289.24 851.02 L1289.38 852.51 L1289.52 854 L1289.66 855.5 L1289.8 856.99 L1289.94 858.48 L1290.08 859.97 L1290.22 861.46 L1290.36 862.94 L1290.49 864.43 L1290.63 865.92 L1290.77 867.41 L1290.9 868.89 L1291.04 870.38 L1291.17 871.87 L1291.3 873.35 L1291.44 874.84 L1291.57 876.33 L1291.7 877.82 L1291.82 879.3 L1291.95 880.79 L1292.08 882.28 L1292.2 883.77 L1292.33 885.26 L1292.45 886.75 L1292.57 888.24 L1292.7 889.72 L1292.82 891.21 L1292.94 892.7 L1293.05 894.19 L1293.17 895.68 L1293.29 897.17 L1293.41 898.66 L1293.52 900.15 L1293.64 901.64 L1293.75 903.14 L1293.86 904.63 L1293.98 906.12 L1294.09 907.61 L1294.2 909.1 L1294.31 910.59 L1294.42 912.08 L1294.53 913.58 L1294.63 915.07 L1294.74 916.56 L1294.85 918.05 L1294.95 919.55 L1295.06 921.04 L1295.16 922.53 L1295.27 924.02 L1295.37 925.52 L1295.47 927.01 L1295.58 928.51 L1295.68 930 L1295.78 931.49 L1295.88 932.99 L1295.98 934.48 L1296.08 935.98 L1296.18 937.47 L1296.28 938.96 L1296.38 940.46 L1296.47 941.95 L1296.57 943.45 L1296.67 944.94 L1296.76 946.44 L1296.86 947.94 L1296.96 949.43 L1297.05 950.93 L1297.15 952.42 L1297.24 953.92 L1297.34 955.41 L1297.43 956.91 L1297.52 958.41 L1297.62 959.9 L1297.71 961.4 L1297.8 962.9 L1297.9 964.39 L1297.99 965.89 L1298.08 967.39 L1298.17 968.88 L1298.26 970.38 L1298.36 971.88 L1298.45 973.38 L1298.54 974.87 L1298.63 976.37 L1298.72 977.87 L1298.81 979.37 L1298.9 980.87 L1298.99 982.36 L1299.08 983.86 L1299.18 985.36 L1299.27 986.86 L1299.36 988.36 L1299.45 989.86 L1299.54 991.35 L1299.63 992.85 L1299.72 994.35 L1299.81 995.85 L1299.9 997.35 L1299.99 998.85 L1300.08 1000.35 L1300.18 1001.85 L1300.27 1003.35 L1300.36 1004.85 L1300.45 1006.35 L1300.54 1007.85 L1300.63 1009.35 L1300.73 1010.85 L1300.82 1012.35 L1300.91 1013.85 L1301 1015.35 L1301.1 1016.85 L1301.19 1018.35 L1301.28 1019.85 L1301.38 1021.35 L1301.47 1022.85 L1301.56 1024.35 L1301.66 1025.85 L1301.75 1027.35 L1301.85 1028.85 L1301.95 1030.35 L1302.04 1031.85 L1302.14 1033.35 L1302.24 1034.85 L1302.33 1036.35 L1302.43 1037.85 L1302.53 1039.35 L1302.63 1040.86 L1302.73 1042.36 L1302.83 1043.86 L1302.93 1045.36 L1303.03 1046.86 L1303.13 1048.36 L1303.23 1049.86 L1303.33 1051.36 L1303.44 1052.87 L1303.54 1054.37 L1303.64 1055.87 L1303.75 1057.37 L1303.85 1058.87 L1303.96 1060.37 L1304.07 1061.87 L1304.17 1063.38 L1304.28 1064.88 L1304.39 1066.38 L1304.5 1067.88 L1304.61 1069.38 L1304.72 1070.88 L1304.83 1072.39 L1304.94 1073.89 L1305.06 1075.39 L1305.17 1076.89 L1305.29 1078.39 L1305.4 1079.89 L1305.52 1081.4 L1305.64 1082.9 L1305.75 1084.4 L1305.87 1085.9 L1305.99 1087.4 L1306.11 1088.91 L1306.24 1090.41 L1306.36 1091.91 L1306.48 1093.41 L1306.61 1094.91 L1306.73 1096.42 L1306.86 1097.92 L1306.99 1099.42 L1307.11 1100.92 L1307.24 1102.42 L1307.37 1103.92 L1307.51 1105.42 L1307.64 1106.92 L1307.77 1108.42 L1307.91 1109.92 L1308.04 1111.42 L1308.18 1112.92 L1308.31 1114.41 L1308.45 1115.91 L1308.59 1117.41 L1308.73 1118.9 L1308.87 1120.4 L1309.01 1121.89 L1309.16 1123.39 L1309.3 1124.88 L1309.45 1126.37 L1309.59 1127.86 L1309.74 1129.35 L1309.89 1130.84 L1310.04 1132.33 L1310.19 1133.81 L1310.34 1135.3 L1310.49 1136.78 L1310.65 1138.27 L1310.8 1139.75 L1310.96 1141.23 L1311.11 1142.71 L1311.27 1144.19 L1311.43 1145.67 L1311.59 1147.14 L1311.75 1148.62 L1311.91 1150.09 L1312.08 1151.56 L1312.24 1153.03 L1312.41 1154.5 L1312.57 1155.96 L1312.74 1157.43 L1312.91 1158.89 L1313.08 1160.35 L1313.25 1161.81 L1313.42 1163.27 L1313.59 1164.73 L1313.76 1166.19 L1313.93 1167.65 L1314.11 1169.11 L1314.28 1170.57 L1314.45 1172.03 L1314.63 1173.49 L1314.8 1174.95 L1314.97 1176.42 L1315.14 1177.88 L1315.31 1179.35 L1315.49 1180.82 L1315.66 1182.3 L1315.83 1183.77 L1316 1185.25 L1316.16 1186.73 L1316.33 1188.22 L1316.5 1189.71 L1316.66 1191.21 L1316.83 1192.7 L1316.99 1194.21 L1317.15 1195.72 L1317.31 1197.23 L1317.47 1198.75 L1317.62 1200.27 L1317.77 1201.8 L1317.93 1203.34 L1318.08 1204.88 L1318.22 1206.43 L1318.37 1207.99 L1318.51 1209.56 L1318.65 1211.12 L1318.8 1212.69 L1318.96 1214.26 L1319.14 1215.82 L1319.35 1217.37 L1319.57 1218.91 L1319.84 1220.43 L1320.14 1221.93 L1320.49 1223.4 L1320.88 1224.85 L1321.33 1226.26 L1321.84 1227.64 L1322.42 1228.97 L1323.07 1230.26 L1323.79 1231.51 L1324.6 1232.7 L1325.49 1233.84 L1326.47 1234.92 L1327.55 1235.94 L1328.71 1236.9 L1329.95 1237.78 L1331.25 1238.59 L1332.6 1239.33 L1334 1239.99 L1335.44 1240.57 L1336.9 1241.06 L1338.38 1241.46 L1339.86 1241.78 L1341.34 1242 L1342.83 1242.17 L1344.32 1242.28 L1345.81 1242.36 L1347.3 1242.42 L1348.79 1242.48 L1350.28 1242.57 L1351.77 1242.68 L1353.27 1242.8 L1354.78 1242.92 L1356.3 1243.02 L1357.84 1243.1 L1359.35 1243.23 L1360.81 1243.5 L1362.15 1244.04 L1363.37 1244.87 L1364.49 1245.91 L1365.57 1247.04 L1366.67 1248.15 L1367.8 1249.16 L1368.98 1250.07 L1370.19 1250.89 L1371.44 1251.62 L1372.73 1252.27 L1374.05 1252.84 L1375.4 1253.34 L1376.78 1253.78 L1378.18 1254.15 L1379.61 1254.47 L1381.05 1254.73 L1382.52 1254.96 L1384 1255.14 L1385.49 1255.29 L1387 1255.42 L1388.51 1255.52 L1390.03 1255.6 L1391.55 1255.67 L1393.08 1255.73 L1394.61 1255.8 L1396.13 1255.86 L1397.66 1255.92 L1399.18 1255.98 L1400.71 1256.04 L1402.23 1256.1 L1403.75 1256.15 L1405.28 1256.21 L1406.8 1256.27 L1408.32 1256.33 L1409.84 1256.38 L1411.36 1256.44 L1412.88 1256.49 L1414.4 1256.54 L1415.92 1256.6 L1417.43 1256.65 L1418.95 1256.7 L1420.47 1256.75 L1421.98 1256.8 L1423.5 1256.85 L1425.01 1256.9 L1426.53 1256.95 L1428.04 1257 L1429.56 1257.04 L1431.07 1257.09 L1432.58 1257.14 L1434.1 1257.18 L1435.61 1257.23 L1437.12 1257.27 L1438.63 1257.31 L1440.14 1257.36 L1441.65 1257.4 L1443.16 1257.44 L1444.67 1257.48 L1446.18 1257.53 L1447.69 1257.57 L1449.19 1257.61 L1450.7 1257.64 L1452.21 1257.68 L1453.72 1257.72 L1455.22 1257.76 L1456.73 1257.8 L1458.23 1257.83 L1459.74 1257.87 L1461.24 1257.91 L1462.75 1257.94 L1464.25 1257.98 L1465.76 1258.01 L1467.26 1258.04 L1468.76 1258.08 L1470.26 1258.11 L1471.77 1258.14 L1473.27 1258.18 L1474.77 1258.21 L1476.27 1258.24 L1477.77 1258.27 L1479.27 1258.3 L1480.77 1258.33 L1482.27 1258.36 L1483.77 1258.39 L1485.27 1258.42 L1486.77 1258.45 L1488.27 1258.47 L1489.77 1258.5 L1491.27 1258.53 L1492.77 1258.55 L1494.27 1258.58 L1495.76 1258.61 L1497.26 1258.63 L1498.76 1258.66 L1500.26 1258.68 L1501.75 1258.71 L1503.25 1258.73 L1504.75 1258.75 L1506.24 1258.78 L1507.74 1258.8 L1509.24 1258.82 L1510.73 1258.85 L1512.23 1258.87 L1513.72 1258.89 L1515.22 1258.91 L1516.71 1258.93 L1518.21 1258.95 L1519.7 1258.98 L1521.2 1259 L1522.69 1259.02 L1524.19 1259.04 L1525.68 1259.06 L1527.17 1259.07 L1528.67 1259.09 L1530.16 1259.11 L1531.66 1259.13 L1533.15 1259.15 L1534.64 1259.17 L1536.14 1259.19 L1537.63 1259.2 L1539.12 1259.22 L1540.62 1259.24 L1542.11 1259.25 L1543.6 1259.27 L1545.1 1259.29 L1546.59 1259.3 L1548.08 1259.32 L1549.57 1259.34 L1551.07 1259.35 L1552.56 1259.37 L1554.05 1259.38 L1555.55 1259.4 L1557.04 1259.41 L1558.53 1259.43 L1560.02 1259.44 L1561.52 1259.46 L1563.01 1259.47 L1564.5 1259.49 L1566 1259.5 L1567.49 1259.52 L1568.98 1259.53 L1570.48 1259.54 L1571.97 1259.56 L1573.46 1259.57 L1574.95 1259.59 L1576.45 1259.6 L1577.94 1259.61 L1579.43 1259.63 L1580.93 1259.64 L1582.42 1259.65 L1583.92 1259.67 L1585.41 1259.68 L1586.9 1259.69 L1588.4 1259.71 L1589.89 1259.72 L1591.38 1259.73 L1592.88 1259.74 L1594.37 1259.76 L1595.87 1259.77 L1597.36 1259.78 L1598.86 1259.8 L1600.35 1259.81 L1601.85 1259.82 L1603.34 1259.84 L1604.84 1259.85 L1606.33 1259.86 L1607.83 1259.87 L1609.33 1259.89 L1610.82 1259.9 L1612.32 1259.91 L1613.82 1259.93 L1615.31 1259.94 L1616.81 1259.95 L1618.31 1259.97 L1619.8 1259.98 L1621.3 1259.99 L1622.8 1260 L1624.3 1260.02 L1625.8 1260.03 L1627.3 1260.05 L1628.79 1260.06 L1630.29 1260.07 L1631.79 1260.09 L1633.29 1260.1 L1634.79 1260.12 L1636.29 1260.13 L1637.79 1260.14 L1639.29 1260.16 L1640.8 1260.17 L1642.3 1260.19 L1643.8 1260.2 L1645.3 1260.22 L1646.8 1260.23 L1648.31 1260.25 L1649.81 1260.26 L1651.31 1260.28 L1652.82 1260.3 L1654.32 1260.31 L1655.83 1260.33 L1657.33 1260.34 L1658.84 1260.36 L1660.34 1260.38 L1661.85 1260.4 L1663.36 1260.41 L1664.86 1260.43 L1666.37 1260.45 L1667.88 1260.47 L1669.39 1260.48 L1670.89 1260.5 L1672.4 1260.52 L1673.91 1260.54 L1675.42 1260.56 L1676.93 1260.58 L1678.44 1260.6 L1679.95 1260.62 L1681.47 1260.64 L1682.98 1260.66 L1684.49 1260.68 L1686 1260.7" fill="none" stroke="#2173b1" stroke-width="6" stroke-linecap="round" stroke-linejoin="round" clip-path="url(#cc)"/>
<clipPath id="cb"><rect x="903.2" y="690" width="790.7" height="610"/></clipPath>
<path d="M880 1271.5 L881.48 1271.74 L882.97 1271.98 L884.46 1272.22 L885.94 1272.45 L887.43 1272.68 L888.91 1272.9 L890.4 1273.13 L891.89 1273.34 L893.38 1273.55 L894.87 1273.76 L896.35 1273.97 L897.84 1274.17 L899.33 1274.37 L900.82 1274.56 L902.31 1274.75 L903.8 1274.93 L905.29 1275.11 L906.78 1275.29 L908.27 1275.47 L909.76 1275.64 L911.26 1275.8 L912.75 1275.97 L914.24 1276.13 L915.73 1276.28 L917.23 1276.43 L918.72 1276.58 L920.21 1276.73 L921.71 1276.87 L923.2 1277.01 L924.69 1277.14 L926.19 1277.27 L927.68 1277.4 L929.18 1277.53 L930.67 1277.65 L932.17 1277.77 L933.66 1277.88 L935.16 1277.99 L936.66 1278.1 L938.15 1278.21 L939.65 1278.31 L941.15 1278.41 L942.64 1278.5 L944.14 1278.59 L945.64 1278.68 L947.13 1278.77 L948.63 1278.85 L950.13 1278.93 L951.63 1279.01 L953.13 1279.08 L954.62 1279.15 L956.12 1279.22 L957.62 1279.29 L959.12 1279.35 L960.62 1279.41 L962.12 1279.47 L963.62 1279.52 L965.12 1279.57 L966.62 1279.62 L968.12 1279.67 L969.62 1279.71 L971.12 1279.75 L972.62 1279.79 L974.12 1279.83 L975.62 1279.86 L977.12 1279.89 L978.62 1279.92 L980.12 1279.94 L981.62 1279.96 L983.12 1279.98 L984.62 1280 L986.12 1280.02 L987.62 1280.03 L989.12 1280.04 L990.63 1280.05 L992.13 1280.06 L993.63 1280.06 L995.13 1280.06 L996.63 1280.06 L998.13 1280.06 L999.63 1280.05 L1001.14 1280.05 L1002.64 1280.04 L1004.14 1280.03 L1005.64 1280.01 L1007.14 1280 L1008.64 1279.98 L1010.15 1279.96 L1011.65 1279.94 L1013.15 1279.92 L1014.65 1279.89 L1016.15 1279.87 L1017.65 1279.84 L1019.16 1279.81 L1020.66 1279.78 L1022.16 1279.74 L1023.66 1279.71 L1025.16 1279.67 L1026.66 1279.63 L1028.17 1279.59 L1029.67 1279.54 L1031.17 1279.5 L1032.67 1279.45 L1034.17 1279.41 L1035.67 1279.36 L1037.17 1279.31 L1038.68 1279.26 L1040.18 1279.2 L1041.68 1279.15 L1043.18 1279.09 L1044.68 1279.03 L1046.18 1278.97 L1047.68 1278.91 L1049.18 1278.85 L1050.68 1278.79 L1052.18 1278.73 L1053.68 1278.66 L1055.18 1278.59 L1056.68 1278.53 L1058.18 1278.46 L1059.68 1278.39 L1061.18 1278.31 L1062.68 1278.24 L1064.18 1278.17 L1065.68 1278.09 L1067.18 1278.02 L1068.68 1277.94 L1070.18 1277.87 L1071.67 1277.79 L1073.17 1277.71 L1074.67 1277.63 L1076.17 1277.55 L1077.67 1277.46 L1079.16 1277.38 L1080.66 1277.3 L1082.16 1277.21 L1083.66 1277.13 L1085.15 1277.04 L1086.65 1276.96 L1088.15 1276.87 L1089.64 1276.78 L1091.14 1276.7 L1092.63 1276.61 L1094.13 1276.52 L1095.62 1276.42 L1097.12 1276.33 L1098.61 1276.23 L1100.11 1276.14 L1101.6 1276.04 L1103.1 1275.93 L1104.59 1275.83 L1106.08 1275.72 L1107.58 1275.61 L1109.07 1275.49 L1110.56 1275.38 L1112.05 1275.26 L1113.55 1275.13 L1115.04 1275 L1116.53 1274.87 L1118.02 1274.73 L1119.51 1274.59 L1121 1274.44 L1122.49 1274.29 L1123.98 1274.13 L1125.47 1273.97 L1126.96 1273.8 L1128.45 1273.63 L1129.93 1273.45 L1131.42 1273.27 L1132.91 1273.07 L1134.39 1272.88 L1135.88 1272.67 L1137.37 1272.46 L1138.85 1272.24 L1140.34 1272.01 L1141.82 1271.78 L1143.3 1271.54 L1144.79 1271.29 L1146.27 1271.03 L1147.75 1270.77 L1149.23 1270.5 L1150.72 1270.22 L1152.2 1269.94 L1153.68 1269.65 L1155.16 1269.35 L1156.63 1269.04 L1158.11 1268.74 L1159.59 1268.42 L1161.07 1268.1 L1162.54 1267.78 L1164.02 1267.45 L1165.49 1267.11 L1166.96 1266.77 L1168.44 1266.43 L1169.91 1266.09 L1171.38 1265.74 L1172.85 1265.38 L1174.32 1265.03 L1175.79 1264.67 L1177.25 1264.3 L1178.72 1263.94 L1180.19 1263.57 L1181.65 1263.2 L1183.11 1262.83 L1184.58 1262.46 L1186.04 1262.09 L1187.5 1261.72 L1188.95 1261.34 L1190.41 1260.96 L1191.87 1260.59 L1193.32 1260.21 L1194.78 1259.83 L1196.23 1259.45 L1197.68 1259.07 L1199.13 1258.68 L1200.58 1258.3 L1202.03 1257.91 L1203.47 1257.52 L1204.92 1257.13 L1206.36 1256.74 L1207.81 1256.35 L1209.25 1255.95 L1210.69 1255.55 L1212.13 1255.15 L1213.57 1254.75 L1215 1254.34 L1216.44 1253.94 L1217.87 1253.53 L1219.3 1253.11 L1220.74 1252.7 L1222.16 1252.28 L1223.59 1251.86 L1225.02 1251.43 L1226.45 1251.01 L1227.87 1250.58 L1229.29 1250.14 L1230.72 1249.71 L1232.14 1249.27 L1233.56 1248.82 L1234.97 1248.38 L1236.39 1247.93 L1237.8 1247.47 L1239.22 1247.01 L1240.63 1246.55 L1242.04 1246.08 L1243.45 1245.61 L1244.86 1245.14 L1246.26 1244.66 L1247.67 1244.18 L1249.07 1243.69 L1250.47 1243.2 L1251.87 1242.7 L1253.27 1242.2 L1254.67 1241.7 L1256.06 1241.19 L1257.46 1240.67 L1258.85 1240.15 L1260.24 1239.63 L1261.63 1239.1 L1263.02 1238.56 L1264.4 1238.02 L1265.79 1237.47 L1267.17 1236.92 L1268.55 1236.36 L1269.93 1235.8 L1271.31 1235.23 L1272.69 1234.66 L1274.06 1234.08 L1275.44 1233.49 L1276.81 1232.9 L1278.18 1232.3 L1279.55 1231.69 L1280.91 1231.08 L1282.28 1230.47 L1283.64 1229.84 L1285 1229.21 L1286.37 1228.57 L1287.72 1227.93 L1289.08 1227.28 L1290.44 1226.62 L1291.79 1225.96 L1293.14 1225.29 L1294.49 1224.61 L1295.84 1223.92 L1297.19 1223.23 L1298.53 1222.53 L1299.87 1221.82 L1301.21 1221.1 L1302.55 1220.38 L1303.88 1219.65 L1305.22 1218.91 L1306.54 1218.17 L1307.87 1217.42 L1309.19 1216.66 L1310.51 1215.89 L1311.83 1215.12 L1313.14 1214.34 L1314.44 1213.55 L1315.75 1212.75 L1317.04 1211.95 L1318.34 1211.13 L1319.63 1210.31 L1320.91 1209.49 L1322.19 1208.65 L1323.46 1207.81 L1324.73 1206.96 L1325.99 1206.1 L1327.25 1205.24 L1328.5 1204.36 L1329.75 1203.48 L1330.99 1202.59 L1332.22 1201.7 L1333.44 1200.79 L1334.66 1199.88 L1335.87 1198.96 L1337.08 1198.04 L1338.28 1197.1 L1339.47 1196.16 L1340.65 1195.21 L1341.82 1194.25 L1342.99 1193.28 L1344.15 1192.31 L1345.3 1191.33 L1346.44 1190.33 L1347.57 1189.34 L1348.69 1188.33 L1349.81 1187.32 L1350.91 1186.29 L1352.01 1185.26 L1353.1 1184.23 L1354.17 1183.18 L1355.24 1182.12 L1356.3 1181.06 L1357.34 1179.99 L1358.38 1178.91 L1359.4 1177.83 L1360.42 1176.73 L1361.42 1175.63 L1362.42 1174.52 L1363.4 1173.4 L1364.37 1172.27 L1365.33 1171.13 L1366.27 1169.99 L1367.21 1168.84 L1368.14 1167.68 L1369.05 1166.51 L1369.95 1165.33 L1370.85 1164.15 L1371.73 1162.96 L1372.6 1161.76 L1373.46 1160.56 L1374.31 1159.35 L1375.16 1158.13 L1375.99 1156.9 L1376.81 1155.67 L1377.62 1154.43 L1378.42 1153.18 L1379.21 1151.93 L1379.99 1150.67 L1380.76 1149.41 L1381.53 1148.14 L1382.28 1146.86 L1383.02 1145.58 L1383.76 1144.29 L1384.49 1142.99 L1385.2 1141.69 L1385.91 1140.38 L1386.61 1139.07 L1387.3 1137.75 L1387.98 1136.43 L1388.66 1135.1 L1389.32 1133.77 L1389.98 1132.43 L1390.63 1131.09 L1391.27 1129.74 L1391.9 1128.39 L1392.53 1127.03 L1393.14 1125.67 L1393.75 1124.31 L1394.35 1122.94 L1394.95 1121.56 L1395.54 1120.18 L1396.12 1118.8 L1396.69 1117.41 L1397.25 1116.02 L1397.81 1114.63 L1398.36 1113.23 L1398.91 1111.83 L1399.45 1110.43 L1399.98 1109.02 L1400.5 1107.61 L1401.02 1106.2 L1401.53 1104.78 L1402.04 1103.36 L1402.54 1101.94 L1403.03 1100.51 L1403.52 1099.08 L1404 1097.65 L1404.48 1096.22 L1404.95 1094.79 L1405.42 1093.35 L1405.88 1091.91 L1406.33 1090.47 L1406.78 1089.02 L1407.23 1087.58 L1407.66 1086.13 L1408.1 1084.68 L1408.53 1083.24 L1408.95 1081.78 L1409.37 1080.33 L1409.79 1078.88 L1410.2 1077.42 L1410.61 1075.97 L1411.01 1074.51 L1411.41 1073.05 L1411.8 1071.6 L1412.19 1070.14 L1412.58 1068.68 L1412.96 1067.22 L1413.34 1065.76 L1413.71 1064.3 L1414.09 1062.84 L1414.45 1061.38 L1414.82 1059.92 L1415.18 1058.45 L1415.54 1056.99 L1415.89 1055.53 L1416.24 1054.07 L1416.59 1052.6 L1416.94 1051.14 L1417.28 1049.68 L1417.61 1048.21 L1417.95 1046.75 L1418.28 1045.28 L1418.61 1043.82 L1418.94 1042.35 L1419.26 1040.89 L1419.58 1039.42 L1419.9 1037.96 L1420.22 1036.49 L1420.53 1035.02 L1420.84 1033.56 L1421.15 1032.09 L1421.45 1030.62 L1421.75 1029.15 L1422.05 1027.68 L1422.35 1026.22 L1422.65 1024.75 L1422.94 1023.28 L1423.23 1021.81 L1423.52 1020.34 L1423.81 1018.87 L1424.09 1017.4 L1424.38 1015.93 L1424.66 1014.46 L1424.94 1012.99 L1425.21 1011.52 L1425.49 1010.04 L1425.76 1008.57 L1426.03 1007.1 L1426.3 1005.63 L1426.57 1004.16 L1426.84 1002.68 L1427.11 1001.21 L1427.37 999.74 L1427.63 998.26 L1427.9 996.79 L1428.16 995.32 L1428.42 993.84 L1428.67 992.37 L1428.93 990.89 L1429.19 989.42 L1429.44 987.95 L1429.69 986.47 L1429.95 985 L1430.2 983.52 L1430.45 982.04 L1430.7 980.57 L1430.95 979.09 L1431.2 977.62 L1431.45 976.14 L1431.7 974.67 L1431.94 973.19 L1432.19 971.71 L1432.44 970.24 L1432.68 968.76 L1432.93 967.28 L1433.17 965.8 L1433.42 964.33 L1433.67 962.85 L1433.91 961.37 L1434.16 959.89 L1434.4 958.42 L1434.65 956.94 L1434.89 955.46 L1435.14 953.98 L1435.38 952.5 L1435.63 951.03 L1435.87 949.55 L1436.12 948.07 L1436.37 946.59 L1436.61 945.11 L1436.86 943.63 L1437.11 942.15 L1437.36 940.67 L1437.61 939.2 L1437.86 937.72 L1438.11 936.24 L1438.36 934.76 L1438.61 933.28 L1438.87 931.8 L1439.12 930.32 L1439.37 928.84 L1439.63 927.36 L1439.88 925.88 L1440.14 924.4 L1440.39 922.92 L1440.65 921.44 L1440.91 919.96 L1441.16 918.48 L1441.42 917 L1441.68 915.52 L1441.94 914.04 L1442.2 912.56 L1442.46 911.08 L1442.72 909.6 L1442.98 908.12 L1443.24 906.64 L1443.5 905.16 L1443.76 903.68 L1444.02 902.2 L1444.28 900.71 L1444.54 899.23 L1444.8 897.75 L1445.06 896.27 L1445.33 894.79 L1445.59 893.31 L1445.85 891.83 L1446.11 890.35 L1446.37 888.87 L1446.64 887.38 L1446.9 885.9 L1447.16 884.42 L1447.42 882.94 L1447.68 881.46 L1447.95 879.98 L1448.21 878.5 L1448.47 877.01 L1448.73 875.53 L1448.99 874.05 L1449.25 872.57 L1449.52 871.09 L1449.78 869.61 L1450.04 868.12 L1450.3 866.64 L1450.56 865.16 L1450.82 863.68 L1451.08 862.2 L1451.34 860.71 L1451.6 859.23 L1451.85 857.75 L1452.11 856.27 L1452.37 854.78 L1452.63 853.3 L1452.88 851.82 L1453.14 850.34 L1453.4 848.86 L1453.65 847.37 L1453.91 845.89 L1454.16 844.41 L1454.42 842.93 L1454.67 841.44 L1454.92 839.96 L1455.17 838.48 L1455.43 837 L1455.68 835.51 L1455.93 834.04 L1456.19 832.56 L1456.45 831.09 L1456.73 829.63 L1457.01 828.18 L1457.31 826.74 L1457.61 825.32 L1457.94 823.91 L1458.3 822.5 L1458.71 821.08 L1459.21 819.6 L1459.83 818.04 L1460.58 816.45 L1461.45 815.2 L1462.4 814.85 L1463.37 815.61 L1464.29 817.03 L1465.05 818.63 L1465.65 820.15 L1466.11 821.63 L1466.49 823.06 L1466.81 824.48 L1467.12 825.89 L1467.42 827.32 L1467.71 828.74 L1467.99 830.17 L1468.27 831.61 L1468.54 833.04 L1468.8 834.49 L1469.06 835.93 L1469.31 837.38 L1469.56 838.83 L1469.8 840.29 L1470.03 841.75 L1470.26 843.21 L1470.48 844.68 L1470.7 846.15 L1470.91 847.62 L1471.11 849.09 L1471.31 850.57 L1471.51 852.05 L1471.7 853.53 L1471.89 855.02 L1472.07 856.5 L1472.25 857.99 L1472.42 859.48 L1472.59 860.98 L1472.75 862.47 L1472.91 863.97 L1473.07 865.47 L1473.23 866.97 L1473.38 868.48 L1473.52 869.98 L1473.67 871.49 L1473.81 872.99 L1473.95 874.5 L1474.08 876.01 L1474.21 877.52 L1474.34 879.03 L1474.47 880.55 L1474.6 882.06 L1474.72 883.57 L1474.84 885.09 L1474.96 886.6 L1475.08 888.12 L1475.2 889.64 L1475.32 891.15 L1475.43 892.67 L1475.54 894.18 L1475.66 895.7 L1475.77 897.22 L1475.88 898.73 L1475.99 900.25 L1476.1 901.76 L1476.21 903.28 L1476.32 904.79 L1476.43 906.3 L1476.54 907.82 L1476.65 909.33 L1476.76 910.84 L1476.88 912.35 L1476.99 913.86 L1477.1 915.37 L1477.21 916.88 L1477.32 918.38 L1477.43 919.89 L1477.54 921.4 L1477.66 922.9 L1477.77 924.41 L1477.88 925.91 L1478 927.41 L1478.11 928.92 L1478.22 930.42 L1478.34 931.92 L1478.45 933.42 L1478.57 934.92 L1478.68 936.42 L1478.8 937.92 L1478.91 939.42 L1479.03 940.92 L1479.15 942.42 L1479.26 943.91 L1479.38 945.41 L1479.5 946.91 L1479.62 948.4 L1479.73 949.9 L1479.85 951.39 L1479.97 952.89 L1480.09 954.38 L1480.21 955.87 L1480.34 957.37 L1480.46 958.86 L1480.58 960.35 L1480.7 961.84 L1480.82 963.34 L1480.95 964.83 L1481.07 966.32 L1481.2 967.81 L1481.32 969.3 L1481.45 970.79 L1481.58 972.28 L1481.7 973.77 L1481.83 975.26 L1481.96 976.75 L1482.09 978.23 L1482.22 979.72 L1482.35 981.21 L1482.48 982.7 L1482.61 984.18 L1482.74 985.67 L1482.88 987.16 L1483.01 988.65 L1483.15 990.13 L1483.28 991.62 L1483.42 993.11 L1483.55 994.59 L1483.69 996.08 L1483.83 997.56 L1483.97 999.05 L1484.11 1000.53 L1484.25 1002.02 L1484.39 1003.51 L1484.54 1004.99 L1484.68 1006.48 L1484.82 1007.96 L1484.97 1009.45 L1485.12 1010.93 L1485.27 1012.42 L1485.41 1013.9 L1485.56 1015.39 L1485.71 1016.87 L1485.87 1018.36 L1486.02 1019.84 L1486.17 1021.33 L1486.33 1022.81 L1486.49 1024.3 L1486.64 1025.78 L1486.8 1027.27 L1486.96 1028.75 L1487.12 1030.24 L1487.29 1031.73 L1487.45 1033.21 L1487.61 1034.7 L1487.78 1036.18 L1487.95 1037.67 L1488.12 1039.15 L1488.29 1040.64 L1488.46 1042.13 L1488.63 1043.61 L1488.81 1045.1 L1488.98 1046.59 L1489.16 1048.08 L1489.34 1049.56 L1489.52 1051.05 L1489.7 1052.54 L1489.88 1054.03 L1490.07 1055.51 L1490.26 1057 L1490.44 1058.49 L1490.63 1059.98 L1490.82 1061.47 L1491.02 1062.96 L1491.21 1064.45 L1491.41 1065.94 L1491.61 1067.43 L1491.81 1068.92 L1492.01 1070.41 L1492.21 1071.91 L1492.41 1073.4 L1492.62 1074.89 L1492.83 1076.38 L1493.04 1077.88 L1493.25 1079.37 L1493.47 1080.87 L1493.68 1082.36 L1493.9 1083.86 L1494.12 1085.35 L1494.34 1086.85 L1494.56 1088.34 L1494.79 1089.84 L1495.02 1091.34 L1495.25 1092.83 L1495.48 1094.33 L1495.72 1095.83 L1495.95 1097.33 L1496.19 1098.82 L1496.44 1100.32 L1496.69 1101.82 L1496.94 1103.31 L1497.19 1104.81 L1497.45 1106.31 L1497.71 1107.8 L1497.97 1109.29 L1498.24 1110.79 L1498.51 1112.28 L1498.79 1113.77 L1499.07 1115.26 L1499.36 1116.75 L1499.65 1118.24 L1499.94 1119.72 L1500.24 1121.21 L1500.55 1122.69 L1500.86 1124.17 L1501.18 1125.65 L1501.5 1127.13 L1501.82 1128.61 L1502.16 1130.08 L1502.49 1131.55 L1502.84 1133.02 L1503.19 1134.49 L1503.54 1135.96 L1503.91 1137.42 L1504.28 1138.88 L1504.65 1140.34 L1505.03 1141.79 L1505.42 1143.25 L1505.82 1144.7 L1506.22 1146.14 L1506.64 1147.59 L1507.05 1149.03 L1507.48 1150.46 L1507.91 1151.9 L1508.35 1153.33 L1508.8 1154.76 L1509.26 1156.18 L1509.73 1157.6 L1510.2 1159.02 L1510.68 1160.43 L1511.18 1161.84 L1511.68 1163.24 L1512.18 1164.64 L1512.7 1166.04 L1513.23 1167.43 L1513.77 1168.82 L1514.31 1170.2 L1514.87 1171.58 L1515.43 1172.96 L1516.01 1174.32 L1516.59 1175.69 L1517.19 1177.05 L1517.79 1178.4 L1518.41 1179.75 L1519.03 1181.1 L1519.67 1182.44 L1520.32 1183.77 L1520.98 1185.1 L1521.65 1186.43 L1522.33 1187.74 L1523.02 1189.06 L1523.72 1190.36 L1524.44 1191.66 L1525.16 1192.96 L1525.9 1194.25 L1526.65 1195.53 L1527.41 1196.81 L1528.19 1198.08 L1528.98 1199.34 L1529.78 1200.6 L1530.59 1201.85 L1531.41 1203.09 L1532.25 1204.33 L1533.1 1205.56 L1533.97 1206.79 L1534.84 1208 L1535.73 1209.21 L1536.64 1210.42 L1537.56 1211.61 L1538.49 1212.8 L1539.43 1213.97 L1540.39 1215.14 L1541.36 1216.3 L1542.34 1217.45 L1543.34 1218.59 L1544.35 1219.71 L1545.38 1220.83 L1546.41 1221.93 L1547.46 1223.02 L1548.53 1224.09 L1549.6 1225.16 L1550.69 1226.21 L1551.79 1227.24 L1552.9 1228.26 L1554.03 1229.27 L1555.17 1230.25 L1556.32 1231.23 L1557.49 1232.18 L1558.67 1233.12 L1559.86 1234.04 L1561.06 1234.94 L1562.28 1235.82 L1563.5 1236.69 L1564.75 1237.53 L1566 1238.36 L1567.26 1239.16 L1568.54 1239.94 L1569.83 1240.7 L1571.13 1241.44 L1572.45 1242.16 L1573.77 1242.85 L1575.11 1243.53 L1576.46 1244.18 L1577.82 1244.81 L1579.19 1245.43 L1580.56 1246.03 L1581.95 1246.61 L1583.34 1247.18 L1584.74 1247.73 L1586.15 1248.27 L1587.56 1248.79 L1588.98 1249.31 L1590.4 1249.81 L1591.83 1250.31 L1593.26 1250.79 L1594.69 1251.27 L1596.13 1251.74 L1597.56 1252.21 L1599 1252.66 L1600.44 1253.12 L1601.88 1253.57 L1603.32 1254.02 L1604.76 1254.46 L1606.2 1254.9 L1607.65 1255.34 L1609.09 1255.77 L1610.53 1256.2 L1611.97 1256.63 L1613.42 1257.05 L1614.86 1257.46 L1616.3 1257.87 L1617.75 1258.28 L1619.2 1258.68 L1620.64 1259.08 L1622.09 1259.47 L1623.54 1259.85 L1624.99 1260.23 L1626.44 1260.61 L1627.89 1260.98 L1629.34 1261.35 L1630.79 1261.71 L1632.25 1262.06 L1633.7 1262.41 L1635.16 1262.75 L1636.62 1263.09 L1638.07 1263.42 L1639.53 1263.74 L1641 1264.06 L1642.46 1264.37 L1643.92 1264.67 L1645.39 1264.97 L1646.85 1265.26 L1648.32 1265.54 L1649.79 1265.82 L1651.26 1266.09 L1652.73 1266.35 L1654.21 1266.61 L1655.68 1266.86 L1657.16 1267.1 L1658.64 1267.33 L1660.12 1267.55 L1661.6 1267.77 L1663.09 1267.98 L1664.57 1268.18 L1666.06 1268.37 L1667.55 1268.56 L1669.04 1268.74 L1670.53 1268.91 L1672.03 1269.07 L1673.52 1269.23 L1675.02 1269.38 L1676.52 1269.52 L1678.02 1269.66 L1679.52 1269.79 L1681.02 1269.91 L1682.52 1270.04 L1684.03 1270.15 L1685.53 1270.27 L1687.03 1270.37 L1688.54 1270.48 L1690.04 1270.58 L1691.54 1270.68 L1693.05 1270.77 L1694.55 1270.86 L1696.06 1270.95 L1697.56 1271.04 L1699.06 1271.13 L1700.57 1271.21 L1702.07 1271.29 L1703.57 1271.37 L1705.07 1271.46 L1706.57 1271.54 L1708.07 1271.62 L1709.56 1271.7 L1711.06 1271.78 L1712.55 1271.86 L1714.05 1271.95 L1715.54 1272.03 L1717.03 1272.12 L1718.51 1272.21 L1720 1272.3" fill="none" stroke="#ff0000" stroke-width="6" stroke-linecap="butt" stroke-linejoin="round" clip-path="url(#cb)"/>
<line x1="962.5" y1="1291.9" x2="1098.8" y2="1291.9" stroke="#000" stroke-width="1" stroke-linecap="butt"/>
<line x1="904.2" y1="703.79" x2="904.2" y2="1294.35" stroke="#000" stroke-width="2.1" stroke-linecap="butt"/>
<line x1="903.15" y1="1293.3" x2="1694.65" y2="1293.3" stroke="#000" stroke-width="2.1" stroke-linecap="butt"/>
<line x1="892.3" y1="1293.3" x2="904.2" y2="1293.3" stroke="#000" stroke-width="2.1" stroke-linecap="butt"/>
<line x1="892.3" y1="1239.8" x2="904.2" y2="1239.8" stroke="#000" stroke-width="2.1" stroke-linecap="butt"/>
<line x1="892.3" y1="1186.31" x2="904.2" y2="1186.31" stroke="#000" stroke-width="2.1" stroke-linecap="butt"/>
<line x1="892.3" y1="1132.81" x2="904.2" y2="1132.81" stroke="#000" stroke-width="2.1" stroke-linecap="butt"/>
<line x1="892.3" y1="1079.32" x2="904.2" y2="1079.32" stroke="#000" stroke-width="2.1" stroke-linecap="butt"/>
<line x1="892.3" y1="1025.82" x2="904.2" y2="1025.82" stroke="#000" stroke-width="2.1" stroke-linecap="butt"/>
<line x1="892.3" y1="972.32" x2="904.2" y2="972.32" stroke="#000" stroke-width="2.1" stroke-linecap="butt"/>
<line x1="892.3" y1="918.83" x2="904.2" y2="918.83" stroke="#000" stroke-width="2.1" stroke-linecap="butt"/>
<line x1="892.3" y1="865.33" x2="904.2" y2="865.33" stroke="#000" stroke-width="2.1" stroke-linecap="butt"/>
<line x1="892.3" y1="811.84" x2="904.2" y2="811.84" stroke="#000" stroke-width="2.1" stroke-linecap="butt"/>
<line x1="892.3" y1="758.34" x2="904.2" y2="758.34" stroke="#000" stroke-width="2.1" stroke-linecap="butt"/>
<line x1="892.3" y1="704.84" x2="904.2" y2="704.84" stroke="#000" stroke-width="2.1" stroke-linecap="butt"/>
<line x1="897.7" y1="1266.55" x2="904.2" y2="1266.55" stroke="#000" stroke-width="2.1" stroke-linecap="butt"/>
<line x1="897.7" y1="1213.06" x2="904.2" y2="1213.06" stroke="#000" stroke-width="2.1" stroke-linecap="butt"/>
<line x1="897.7" y1="1159.56" x2="904.2" y2="1159.56" stroke="#000" stroke-width="2.1" stroke-linecap="butt"/>
<line x1="897.7" y1="1106.06" x2="904.2" y2="1106.06" stroke="#000" stroke-width="2.1" stroke-linecap="butt"/>
<line x1="897.7" y1="1052.57" x2="904.2" y2="1052.57" stroke="#000" stroke-width="2.1" stroke-linecap="butt"/>
<line x1="897.7" y1="999.07" x2="904.2" y2="999.07" stroke="#000" stroke-width="2.1" stroke-linecap="butt"/>
<line x1="897.7" y1="945.58" x2="904.2" y2="945.58" stroke="#000" stroke-width="2.1" stroke-linecap="butt"/>
<line x1="897.7" y1="892.08" x2="904.2" y2="892.08" stroke="#000" stroke-width="2.1" stroke-linecap="butt"/>
<line x1="897.7" y1="838.58" x2="904.2" y2="838.58" stroke="#000" stroke-width="2.1" stroke-linecap="butt"/>
<line x1="897.7" y1="785.09" x2="904.2" y2="785.09" stroke="#000" stroke-width="2.1" stroke-linecap="butt"/>
<line x1="897.7" y1="731.59" x2="904.2" y2="731.59" stroke="#000" stroke-width="2.1" stroke-linecap="butt"/>
<line x1="941.5" y1="1293.3" x2="941.5" y2="1305.7" stroke="#000" stroke-width="2.1" stroke-linecap="butt"/>
<line x1="1016.71" y1="1293.3" x2="1016.71" y2="1305.7" stroke="#000" stroke-width="2.1" stroke-linecap="butt"/>
<line x1="1091.92" y1="1293.3" x2="1091.92" y2="1305.7" stroke="#000" stroke-width="2.1" stroke-linecap="butt"/>
<line x1="1167.13" y1="1293.3" x2="1167.13" y2="1305.7" stroke="#000" stroke-width="2.1" stroke-linecap="butt"/>
<line x1="1242.34" y1="1293.3" x2="1242.34" y2="1305.7" stroke="#000" stroke-width="2.1" stroke-linecap="butt"/>
<line x1="1317.55" y1="1293.3" x2="1317.55" y2="1305.7" stroke="#000" stroke-width="2.1" stroke-linecap="butt"/>
<line x1="1392.76" y1="1293.3" x2="1392.76" y2="1305.7" stroke="#000" stroke-width="2.1" stroke-linecap="butt"/>
<line x1="1467.97" y1="1293.3" x2="1467.97" y2="1305.7" stroke="#000" stroke-width="2.1" stroke-linecap="butt"/>
<line x1="1543.18" y1="1293.3" x2="1543.18" y2="1305.7" stroke="#000" stroke-width="2.1" stroke-linecap="butt"/>
<line x1="1618.39" y1="1293.3" x2="1618.39" y2="1305.7" stroke="#000" stroke-width="2.1" stroke-linecap="butt"/>
<line x1="1693.6" y1="1293.3" x2="1693.6" y2="1305.7" stroke="#000" stroke-width="2.1" stroke-linecap="butt"/>
<line x1="903.89" y1="1293.3" x2="903.89" y2="1300.3" stroke="#000" stroke-width="2.1" stroke-linecap="butt"/>
<line x1="979.11" y1="1293.3" x2="979.11" y2="1300.3" stroke="#000" stroke-width="2.1" stroke-linecap="butt"/>
<line x1="1054.32" y1="1293.3" x2="1054.32" y2="1300.3" stroke="#000" stroke-width="2.1" stroke-linecap="butt"/>
<line x1="1129.53" y1="1293.3" x2="1129.53" y2="1300.3" stroke="#000" stroke-width="2.1" stroke-linecap="butt"/>
<line x1="1204.74" y1="1293.3" x2="1204.74" y2="1300.3" stroke="#000" stroke-width="2.1" stroke-linecap="butt"/>
<line x1="1279.94" y1="1293.3" x2="1279.94" y2="1300.3" stroke="#000" stroke-width="2.1" stroke-linecap="butt"/>
<line x1="1355.15" y1="1293.3" x2="1355.15" y2="1300.3" stroke="#000" stroke-width="2.1" stroke-linecap="butt"/>
<line x1="1430.37" y1="1293.3" x2="1430.37" y2="1300.3" stroke="#000" stroke-width="2.1" stroke-linecap="butt"/>
<line x1="1505.58" y1="1293.3" x2="1505.58" y2="1300.3" stroke="#000" stroke-width="2.1" stroke-linecap="butt"/>
<line x1="1580.78" y1="1293.3" x2="1580.78" y2="1300.3" stroke="#000" stroke-width="2.1" stroke-linecap="butt"/>
<line x1="1655.99" y1="1293.3" x2="1655.99" y2="1300.3" stroke="#000" stroke-width="2.1" stroke-linecap="butt"/>
<line x1="936.0" y1="773.6" x2="1002.9" y2="773.6" stroke="#2173b1" stroke-width="6" stroke-linecap="round"/>
<line x1="936.0" y1="811.6" x2="1002.9" y2="811.6" stroke="#ff0000" stroke-width="6" stroke-linecap="round"/>
<text transform="translate(948.86,728.55) scale(1.0919,1)" font-family='"Liberation Sans", sans-serif' font-size="29.36" fill="#000" stroke="#000" stroke-width="0.3">R = NPh</text>
<text transform="translate(1069.31,739.2) scale(1.1134,1)" font-family='"Liberation Sans", sans-serif' font-size="15.99" fill="#000" stroke="#000" stroke-width="0.3">2</text>
<text transform="translate(1011.14,783.75) scale(1.0965,1)" font-family='"Liberation Sans", sans-serif' font-size="28.34" fill="#000" stroke="#000" stroke-width="0.3">Monomer</text>
<text transform="translate(1011.84,820.5) scale(1.0897,1)" font-family='"Liberation Sans", sans-serif' font-size="28.34" fill="#000" stroke="#000" stroke-width="0.3">J-aggregate</text>
<text transform="translate(850.87,1300.2) scale(0.9898,1)" font-family='"Liberation Sans", sans-serif' font-size="24.71" fill="#000" stroke="#000" stroke-width="0.3">0,0</text>
<text transform="translate(850.86,1246.7) scale(0.9993,1)" font-family='"Liberation Sans", sans-serif' font-size="24.71" fill="#000" stroke="#000" stroke-width="0.3">0,2</text>
<text transform="translate(850.88,1193.21) scale(0.9823,1)" font-family='"Liberation Sans", sans-serif' font-size="24.71" fill="#000" stroke="#000" stroke-width="0.3">0,4</text>
<text transform="translate(850.87,1139.71) scale(0.9936,1)" font-family='"Liberation Sans", sans-serif' font-size="24.71" fill="#000" stroke="#000" stroke-width="0.3">0,6</text>
<text transform="translate(850.87,1086.22) scale(0.9936,1)" font-family='"Liberation Sans", sans-serif' font-size="24.71" fill="#000" stroke="#000" stroke-width="0.3">0,8</text>
<text transform="translate(851.71,1032.72) scale(0.9646,1)" font-family='"Liberation Sans", sans-serif' font-size="24.71" fill="#000" stroke="#000" stroke-width="0.3">1,0</text>
<text transform="translate(851.69,979.22) scale(0.9742,1)" font-family='"Liberation Sans", sans-serif' font-size="24.71" fill="#000" stroke="#000" stroke-width="0.3">1,2</text>
<text transform="translate(851.73,925.73) scale(0.9571,1)" font-family='"Liberation Sans", sans-serif' font-size="24.71" fill="#000" stroke="#000" stroke-width="0.3">1,4</text>
<text transform="translate(851.71,872.23) scale(0.9684,1)" font-family='"Liberation Sans", sans-serif' font-size="24.71" fill="#000" stroke="#000" stroke-width="0.3">1,6</text>
<text transform="translate(851.71,818.74) scale(0.9684,1)" font-family='"Liberation Sans", sans-serif' font-size="24.71" fill="#000" stroke="#000" stroke-width="0.3">1,8</text>
<text transform="translate(850.62,765.24) scale(0.9974,1)" font-family='"Liberation Sans", sans-serif' font-size="24.71" fill="#000" stroke="#000" stroke-width="0.3">2,0</text>
<text transform="translate(850.61,711.74) scale(1.0071,1)" font-family='"Liberation Sans", sans-serif' font-size="24.71" fill="#000" stroke="#000" stroke-width="0.3">2,2</text>
<text transform="translate(921.2,1331.75) scale(1.0003,1)" font-family='"Liberation Sans", sans-serif' font-size="24.56" fill="#000" stroke="#000" stroke-width="0.3">400</text>
<text transform="translate(995.97,1331.75) scale(1.0114,1)" font-family='"Liberation Sans", sans-serif' font-size="24.56" fill="#000" stroke="#000" stroke-width="0.3">500</text>
<text transform="translate(1070.92,1331.75) scale(1.0178,1)" font-family='"Liberation Sans", sans-serif' font-size="24.56" fill="#000" stroke="#000" stroke-width="0.3">600</text>
<text transform="translate(1146.07,1331.75) scale(1.0194,1)" font-family='"Liberation Sans", sans-serif' font-size="24.56" fill="#000" stroke="#000" stroke-width="0.3">700</text>
<text transform="translate(1221.53,1331.75) scale(1.0129,1)" font-family='"Liberation Sans", sans-serif' font-size="24.56" fill="#000" stroke="#000" stroke-width="0.3">800</text>
<text transform="translate(1296.61,1331.75) scale(1.0161,1)" font-family='"Liberation Sans", sans-serif' font-size="24.56" fill="#000" stroke="#000" stroke-width="0.3">900</text>
<text transform="translate(1365.52,1331.75) scale(1.0014,1)" font-family='"Liberation Sans", sans-serif' font-size="24.56" fill="#000" stroke="#000" stroke-width="0.3">1000</text>
<text transform="translate(1440.66,1331.75) scale(1.0370,1)" font-family='"Liberation Sans", sans-serif' font-size="24.56" fill="#000" stroke="#000" stroke-width="0.3">1100</text>
<text transform="translate(1515.94,1331.75) scale(1.0014,1)" font-family='"Liberation Sans", sans-serif' font-size="24.56" fill="#000" stroke="#000" stroke-width="0.3">1200</text>
<text transform="translate(1591.15,1331.75) scale(1.0014,1)" font-family='"Liberation Sans", sans-serif' font-size="24.56" fill="#000" stroke="#000" stroke-width="0.3">1300</text>
<text transform="translate(1666.36,1331.75) scale(1.0014,1)" font-family='"Liberation Sans", sans-serif' font-size="24.56" fill="#000" stroke="#000" stroke-width="0.3">1400</text>
<text transform="translate(1179.85,1373.9) scale(1.0015,1)" font-family='"Liberation Sans", sans-serif' font-size="29.22" fill="#000" stroke="#000" stroke-width="0.3">Wavelength, nm</text>
<text transform="translate(832.6,1050.8) rotate(-90) translate(-0.07,0) scale(1.0692,1)" font-family='"Liberation Sans", sans-serif' font-size="27.62" fill="#000" stroke="#000" stroke-width="0.3">Absorbance</text>
</g>
</svg>
</body></html>
